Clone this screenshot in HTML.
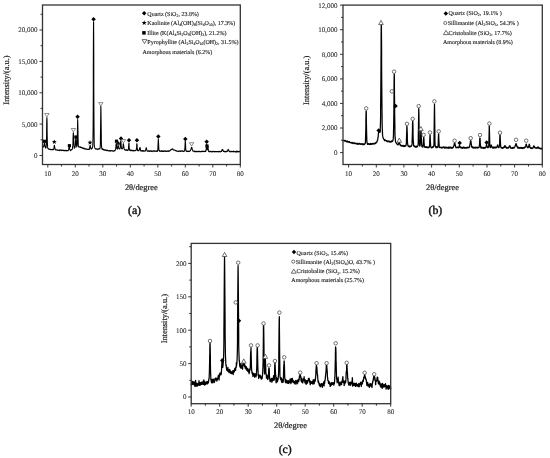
<!DOCTYPE html>
<html><head><meta charset="utf-8"><title>XRD patterns</title>
<style>html,body{margin:0;padding:0;background:#fff;width:550px;height:458px;overflow:hidden} svg{display:block}</style>
</head><body>
<svg width="550" height="458" viewBox="0 0 550 458">
<rect width="550" height="458" fill="#fff"/>
<style>.tk{font:7px 'Liberation Serif', 'Times New Roman', serif;fill:#222;stroke:#222;stroke-width:0.07px} .lg{font:6px 'Liberation Serif', 'Times New Roman', serif;fill:#222;stroke:#222;stroke-width:0.13px} .at{font:8.4px 'Liberation Serif', 'Times New Roman', serif;fill:#222;stroke:#222;stroke-width:0.2px} .pl{font:11.8px 'Liberation Serif', 'Times New Roman', serif;fill:#111;stroke:#111;stroke-width:0.42px} .cv{fill:none;stroke:#000;stroke-width:1.25;stroke-linejoin:round} text{text-rendering:geometricPrecision}</style>
<polyline class="cv" style="stroke-width:1.05" points="42.4,146.5 42.5,146.6 42.6,146.5 42.7,146.5 42.8,146.5 42.8,146.6 42.9,146.8 43.0,146.9 43.1,146.9 43.2,146.9 43.3,147.0 43.3,147.1 43.4,146.9 43.5,146.8 43.6,146.8 43.7,146.6 43.8,146.4 43.8,145.8 43.9,145.5 44.0,144.9 44.1,144.6 44.2,144.2 44.3,143.9 44.3,143.6 44.4,143.4 44.5,143.1 44.6,143.2 44.7,143.6 44.7,144.3 44.8,144.7 44.9,145.3 45.0,145.7 45.1,146.3 45.2,146.9 45.2,147.2 45.3,147.5 45.4,147.7 45.5,147.9 45.6,147.9 45.7,147.9 45.8,147.8 45.9,147.7 46.0,147.8 46.1,147.5 46.1,147.2 46.2,146.4 46.3,145.1 46.4,143.0 46.5,139.7 46.6,135.0 46.6,129.2 46.7,123.5 46.8,119.2 46.9,117.6 47.0,119.2 47.1,123.8 47.1,129.6 47.2,135.1 47.3,139.8 47.4,143.0 47.5,145.4 47.6,146.6 47.6,147.3 47.7,147.7 47.8,148.2 47.9,148.5 48.0,148.5 48.1,148.5 48.2,148.5 48.3,148.6 48.4,148.6 48.5,148.9 48.5,149.1 48.6,149.1 48.7,149.0 48.8,148.9 48.9,149.2 49.0,149.2 49.1,149.1 49.2,149.2 49.3,149.2 49.4,149.1 49.5,149.1 49.6,149.4 49.7,149.5 49.8,149.5 49.9,149.5 49.9,149.4 50.0,149.5 50.1,149.5 50.2,149.6 50.3,149.4 50.4,149.4 50.4,149.2 50.5,149.2 50.6,149.1 50.7,149.2 50.8,149.4 50.9,149.7 51.0,149.6 51.1,149.4 51.2,149.6 51.3,149.6 51.4,149.6 51.5,149.7 51.6,149.6 51.7,149.6 51.8,149.5 51.9,149.6 52.0,149.5 52.1,149.7 52.2,149.7 52.3,149.8 52.3,149.6 52.4,149.6 52.5,149.4 52.6,149.3 52.7,149.4 52.8,149.6 52.9,149.4 53.0,149.6 53.1,149.5 53.2,149.7 53.2,149.6 53.3,149.5 53.4,149.5 53.5,149.6 53.6,149.6 53.7,149.3 53.7,148.9 53.8,148.5 53.9,148.2 54.0,147.6 54.1,147.1 54.2,146.3 54.2,145.8 54.3,145.3 54.4,145.4 54.5,145.6 54.6,146.2 54.6,146.6 54.7,147.1 54.8,147.6 54.9,148.1 55.0,148.6 55.1,148.9 55.1,149.2 55.2,149.3 55.3,149.4 55.4,149.7 55.5,149.8 55.6,149.8 55.6,149.7 55.7,149.9 55.8,149.9 55.9,149.9 56.0,149.7 56.1,149.8 56.2,149.8 56.3,150.0 56.4,149.9 56.5,149.9 56.6,150.0 56.7,149.8 56.8,149.8 56.9,149.9 57.0,150.0 57.0,150.1 57.1,150.0 57.2,150.0 57.3,150.0 57.4,150.0 57.5,150.0 57.5,150.1 57.6,150.0 57.7,150.2 57.8,150.3 57.9,150.3 57.9,150.2 58.0,150.0 58.1,150.0 58.2,150.2 58.3,150.3 58.4,150.3 58.5,150.4 58.6,150.4 58.7,150.3 58.8,150.4 58.9,150.2 58.9,150.3 59.0,150.2 59.1,150.4 59.2,150.5 59.3,150.6 59.3,150.4 59.4,150.1 59.5,150.0 59.6,150.0 59.7,150.2 59.8,150.2 59.9,150.0 60.0,149.9 60.1,150.1 60.2,150.3 60.3,150.3 60.3,150.2 60.4,150.1 60.5,150.0 60.6,150.0 60.7,150.0 60.8,150.1 60.8,150.2 60.9,150.4 61.0,150.3 61.1,150.2 61.2,150.1 61.3,150.2 61.4,150.2 61.5,150.3 61.6,150.4 61.7,150.7 61.7,150.5 61.8,150.5 61.9,150.3 62.0,150.5 62.1,150.2 62.2,150.2 62.2,150.3 62.3,150.4 62.4,150.5 62.5,150.4 62.6,150.5 62.7,150.3 62.8,150.1 62.9,150.0 63.0,149.9 63.1,149.9 63.1,150.2 63.2,150.5 63.3,150.5 63.4,150.3 63.5,150.4 63.6,150.5 63.6,150.6 63.7,150.5 63.8,150.5 63.9,150.6 64.0,150.6 64.1,150.6 64.1,150.5 64.2,150.5 64.3,150.4 64.4,150.6 64.5,150.4 64.5,150.5 64.6,150.4 64.7,150.4 64.8,150.6 64.9,150.7 65.0,150.8 65.0,150.7 65.1,150.6 65.2,150.4 65.3,150.3 65.4,150.3 65.5,150.6 65.5,150.4 65.6,150.4 65.7,150.4 65.8,150.6 65.9,150.7 66.0,150.8 66.1,150.7 66.2,150.6 66.3,150.3 66.4,150.5 66.4,150.7 66.5,150.9 66.6,150.8 66.7,150.8 66.8,150.7 66.9,150.6 67.0,150.6 67.1,150.7 67.2,150.8 67.3,150.8 67.4,150.6 67.4,150.5 67.5,150.6 67.6,150.7 67.7,150.8 67.8,150.6 67.8,150.4 67.9,150.4 68.0,150.5 68.1,150.6 68.2,150.5 68.3,150.4 68.4,150.1 68.5,149.9 68.6,149.6 68.7,149.5 68.8,149.0 68.8,148.6 68.9,148.1 69.0,147.6 69.1,147.0 69.2,146.5 69.2,146.4 69.3,146.5 69.4,146.9 69.5,147.6 69.6,148.2 69.7,148.7 69.7,149.0 69.8,149.4 69.9,149.6 70.0,149.8 70.1,150.1 70.2,150.2 70.2,150.4 70.3,150.5 70.4,150.6 70.5,150.5 70.6,150.5 70.7,150.4 70.7,150.3 70.8,149.9 70.9,149.9 71.0,150.1 71.1,150.2 71.1,150.1 71.2,149.8 71.3,149.6 71.4,149.7 71.5,149.7 71.6,149.7 71.7,149.6 71.8,149.5 71.9,149.5 72.0,149.4 72.1,149.4 72.1,149.5 72.2,149.4 72.3,149.2 72.4,148.7 72.5,148.4 72.5,147.8 72.6,147.2 72.7,146.4 72.8,145.4 72.9,143.9 73.0,141.5 73.0,139.1 73.1,136.5 73.2,134.5 73.3,133.2 73.4,132.7 73.5,133.1 73.5,134.3 73.6,136.4 73.7,138.9 73.8,141.2 73.9,143.2 74.0,144.7 74.0,146.1 74.1,147.0 74.2,147.8 74.3,147.9 74.4,148.1 74.4,148.0 74.5,148.1 74.6,148.0 74.7,147.8 74.8,147.7 74.9,147.6 75.0,147.4 75.1,147.0 75.2,146.2 75.3,145.3 75.4,144.1 75.4,143.0 75.5,141.7 75.6,140.3 75.7,139.0 75.8,138.1 75.8,137.5 75.9,137.8 76.0,138.8 76.1,139.9 76.2,141.3 76.3,142.7 76.3,144.2 76.4,145.0 76.5,145.7 76.6,146.0 76.7,146.6 76.8,146.7 76.8,147.0 76.9,146.5 77.0,146.0 77.1,144.7 77.2,143.0 77.3,140.4 77.3,136.6 77.4,131.9 77.5,126.6 77.6,122.1 77.7,119.4 77.7,119.8 77.8,123.2 77.9,128.1 78.0,133.3 78.1,137.8 78.2,141.1 78.2,143.4 78.3,144.9 78.4,145.9 78.5,146.3 78.6,146.5 78.7,146.5 78.7,146.6 78.8,146.8 78.9,146.8 79.0,147.1 79.1,146.9 79.1,147.0 79.2,146.9 79.3,146.9 79.4,146.9 79.5,146.9 79.6,147.1 79.7,147.0 79.8,147.0 79.9,147.0 80.0,147.3 80.1,147.2 80.1,147.3 80.2,147.0 80.3,147.2 80.4,147.1 80.5,147.2 80.6,147.1 80.6,147.4 80.7,147.4 80.8,147.4 80.9,147.2 81.0,147.3 81.0,147.5 81.1,147.5 81.2,147.5 81.3,147.6 81.4,147.6 81.5,147.8 81.5,147.6 81.6,147.6 81.7,147.4 81.8,147.7 81.9,147.9 82.0,148.1 82.0,147.9 82.1,148.0 82.2,148.0 82.3,148.2 82.4,148.1 82.4,148.0 82.5,147.7 82.6,147.7 82.7,148.0 82.8,148.2 82.9,148.3 82.9,148.1 83.0,148.0 83.1,148.3 83.2,148.1 83.3,148.3 83.4,148.0 83.4,148.4 83.5,148.3 83.6,148.4 83.7,148.2 83.8,148.2 83.9,148.4 83.9,148.7 84.0,148.7 84.1,148.5 84.2,148.3 84.3,148.3 84.3,148.4 84.4,148.6 84.5,148.7 84.6,148.6 84.7,148.6 84.8,148.6 84.8,148.9 84.9,149.1 85.0,149.1 85.1,148.9 85.2,148.8 85.3,148.7 85.3,148.8 85.4,148.8 85.5,148.8 85.6,148.9 85.7,148.9 85.7,149.1 85.8,149.0 85.9,149.0 86.0,148.9 86.1,148.9 86.2,148.9 86.2,149.1 86.3,149.1 86.4,149.1 86.5,149.1 86.6,149.0 86.7,149.1 86.7,149.0 86.8,149.0 86.9,149.1 87.0,149.1 87.1,149.3 87.2,149.3 87.3,149.2 87.4,149.3 87.5,149.3 87.6,149.4 87.6,149.3 87.7,149.4 87.8,149.4 87.9,149.5 88.0,149.4 88.1,149.4 88.1,149.3 88.2,149.4 88.3,149.3 88.4,149.5 88.5,149.5 88.6,149.4 88.6,149.3 88.7,149.3 88.8,149.4 88.9,149.5 89.0,149.2 89.1,149.3 89.2,149.4 89.3,149.3 89.4,148.9 89.5,148.6 89.5,148.3 89.6,147.8 89.7,147.3 89.8,146.6 89.9,146.2 90.0,145.6 90.0,145.4 90.1,145.3 90.2,145.4 90.3,145.7 90.4,146.4 90.5,146.8 90.5,147.2 90.6,147.4 90.7,147.7 90.8,148.1 90.9,148.6 90.9,148.8 91.0,149.0 91.1,148.9 91.2,148.9 91.3,148.9 91.4,149.0 91.4,149.1 91.5,149.0 91.6,148.9 91.7,148.8 91.8,148.6 91.9,148.4 91.9,148.3 92.0,148.3 92.1,148.4 92.2,148.0 92.3,147.9 92.3,147.6 92.4,147.4 92.5,147.0 92.6,146.6 92.7,146.3 92.8,145.8 92.8,144.4 92.9,141.8 93.0,136.9 93.1,127.9 93.2,113.4 93.3,92.8 93.3,67.8 93.4,42.6 93.5,24.7 93.6,21.8 93.7,35.2 93.8,59.0 93.8,85.0 93.9,107.4 94.0,124.0 94.1,134.7 94.2,140.7 94.2,143.8 94.3,145.3 94.4,146.4 94.5,146.9 94.6,147.4 94.7,147.5 94.7,147.7 94.8,147.8 94.9,148.1 95.0,148.4 95.1,148.3 95.2,148.3 95.3,148.4 95.4,148.4 95.5,148.6 95.6,148.7 95.6,149.0 95.7,148.8 95.8,148.9 95.9,148.9 96.0,149.1 96.1,148.9 96.2,148.8 96.3,148.8 96.4,149.0 96.5,149.0 96.6,149.0 96.6,148.9 96.7,148.9 96.8,149.1 96.9,149.0 97.0,149.0 97.1,149.0 97.1,149.3 97.2,149.6 97.3,149.5 97.4,149.3 97.5,149.2 97.6,149.1 97.7,149.0 97.8,149.0 97.9,149.1 98.0,148.9 98.0,148.7 98.1,148.8 98.2,148.9 98.3,149.1 98.4,149.0 98.5,149.2 98.5,149.1 98.6,149.2 98.7,149.0 98.8,149.0 98.9,148.8 98.9,149.0 99.0,149.0 99.1,149.0 99.2,148.9 99.3,148.8 99.4,148.9 99.4,148.8 99.5,148.6 99.6,148.5 99.7,148.8 99.8,148.9 99.9,148.8 99.9,148.5 100.0,148.3 100.1,147.8 100.2,146.9 100.3,145.2 100.4,142.7 100.4,138.6 100.5,132.5 100.6,125.2 100.7,117.2 100.8,110.3 100.8,106.3 100.9,106.8 101.0,111.9 101.1,119.4 101.2,127.7 101.3,134.7 101.3,140.1 101.4,143.5 101.5,145.7 101.6,146.9 101.7,147.8 101.8,148.1 101.8,148.4 101.9,148.3 102.0,148.6 102.1,148.8 102.2,149.2 102.2,149.4 102.3,149.4 102.4,149.2 102.5,148.9 102.6,148.8 102.7,149.0 102.7,149.1 102.8,149.1 102.9,149.2 103.0,149.1 103.1,149.3 103.2,149.3 103.2,149.5 103.3,149.5 103.4,149.5 103.5,149.4 103.6,149.3 103.7,149.4 103.7,149.7 103.8,150.1 103.9,150.2 104.0,150.1 104.1,149.9 104.2,149.9 104.3,149.9 104.4,149.8 104.5,149.8 104.6,149.8 104.6,149.9 104.7,149.8 104.8,149.8 104.9,150.0 105.0,150.2 105.1,150.2 105.1,150.1 105.2,150.1 105.3,150.1 105.4,150.0 105.5,150.1 105.5,150.2 105.6,150.3 105.7,150.4 105.8,150.3 105.9,150.3 106.0,150.1 106.0,150.4 106.1,150.2 106.2,150.2 106.3,150.0 106.4,150.3 106.5,150.4 106.5,150.6 106.6,150.4 106.7,150.5 106.8,150.3 106.9,150.4 107.0,150.4 107.1,150.2 107.2,150.2 107.3,150.1 107.4,150.3 107.4,150.4 107.5,150.6 107.6,150.8 107.7,150.8 107.8,150.6 107.9,150.4 108.0,150.4 108.1,150.5 108.2,150.6 108.3,150.5 108.4,150.6 108.5,150.9 108.6,150.8 108.7,150.9 108.8,150.9 108.8,151.0 108.9,151.0 109.0,151.0 109.1,150.9 109.2,150.7 109.3,150.7 109.3,150.6 109.4,150.8 109.5,150.7 109.6,150.9 109.7,150.9 109.8,150.9 109.8,150.5 109.9,150.5 110.0,150.6 110.1,150.7 110.2,150.8 110.3,150.7 110.3,150.8 110.4,150.8 110.5,150.8 110.6,150.9 110.7,151.2 110.7,151.1 110.8,151.0 110.9,150.6 111.0,150.8 111.1,150.7 111.2,150.8 111.2,150.7 111.3,150.7 111.4,150.7 111.5,150.6 111.6,150.5 111.7,150.5 111.8,150.7 111.9,150.8 112.0,150.7 112.1,150.7 112.1,150.8 112.2,151.0 112.3,151.0 112.4,150.9 112.5,150.9 112.6,150.8 112.7,150.7 112.8,150.9 112.9,151.0 113.0,151.2 113.1,151.0 113.1,151.1 113.2,150.9 113.3,150.9 113.4,151.1 113.5,151.2 113.6,151.2 113.6,150.9 113.7,150.9 113.8,151.1 113.9,151.0 114.0,150.7 114.0,150.6 114.1,150.6 114.2,150.7 114.3,150.8 114.4,150.8 114.5,150.9 114.5,150.6 114.6,150.6 114.7,150.7 114.8,150.8 114.9,150.7 115.0,150.5 115.1,150.3 115.2,150.2 115.3,150.0 115.4,150.0 115.4,149.7 115.5,149.4 115.6,148.9 115.7,148.4 115.8,147.6 115.9,146.7 115.9,145.8 116.0,145.0 116.1,144.2 116.2,143.6 116.3,143.4 116.4,143.5 116.4,144.1 116.5,144.6 116.6,145.7 116.7,146.7 116.8,147.8 116.9,148.2 116.9,148.6 117.0,148.7 117.1,148.9 117.2,149.1 117.3,149.0 117.3,149.1 117.4,148.8 117.5,148.8 117.6,148.5 117.7,148.0 117.8,147.5 117.8,147.0 117.9,146.5 118.0,146.1 118.1,145.6 118.2,145.2 118.3,145.2 118.3,145.6 118.4,146.2 118.5,146.6 118.6,147.2 118.7,147.6 118.7,147.9 118.8,148.1 118.9,148.5 119.0,148.6 119.1,148.8 119.2,148.7 119.2,148.8 119.3,148.8 119.4,148.9 119.5,148.8 119.6,148.7 119.7,148.7 119.7,149.0 119.8,148.9 119.9,148.8 120.0,148.6 120.1,148.4 120.2,148.1 120.2,147.5 120.3,146.8 120.4,145.8 120.5,144.6 120.6,143.4 120.6,142.1 120.7,141.2 120.8,140.9 120.9,141.3 121.0,142.4 121.1,143.6 121.1,144.9 121.2,146.2 121.3,146.9 121.4,147.7 121.5,147.9 121.6,148.4 121.6,148.7 121.7,148.6 121.8,148.4 121.9,148.3 122.0,148.6 122.0,148.7 122.1,148.7 122.2,148.7 122.3,148.7 122.4,148.7 122.5,148.7 122.5,148.3 122.6,148.3 122.7,147.9 122.8,147.9 122.9,147.4 123.0,146.8 123.0,146.1 123.1,145.4 123.2,144.7 123.3,144.0 123.4,143.7 123.5,143.9 123.5,144.4 123.6,144.9 123.7,145.7 123.8,146.4 123.9,147.1 123.9,147.7 124.0,148.3 124.1,148.7 124.2,148.9 124.3,149.0 124.4,149.2 124.4,149.3 124.5,149.5 124.6,149.5 124.7,149.7 124.8,149.6 124.9,149.7 125.0,149.8 125.1,150.0 125.2,150.0 125.3,150.3 125.3,150.2 125.4,150.1 125.5,150.0 125.6,149.9 125.7,150.0 125.8,150.1 125.9,149.9 126.0,149.9 126.1,149.8 126.2,150.0 126.3,150.0 126.3,150.1 126.4,150.1 126.5,150.2 126.6,150.1 126.7,150.0 126.8,149.8 126.9,149.8 127.0,150.1 127.1,150.2 127.2,150.4 127.2,150.1 127.3,150.2 127.4,150.1 127.5,150.2 127.6,150.3 127.7,150.5 127.8,150.4 127.9,150.1 128.0,150.1 128.1,150.1 128.2,150.2 128.2,150.0 128.3,149.9 128.4,149.2 128.5,148.5 128.6,147.4 128.6,146.4 128.7,145.0 128.8,143.7 128.9,143.0 129.0,143.2 129.1,144.3 129.1,145.8 129.2,147.0 129.3,147.9 129.4,148.6 129.5,149.4 129.6,149.8 129.6,150.0 129.7,150.1 129.8,150.3 129.9,150.4 130.0,150.2 130.1,150.0 130.2,149.9 130.3,150.1 130.4,150.2 130.5,150.4 130.5,150.6 130.6,150.8 130.7,150.6 130.8,150.5 130.9,150.5 131.0,150.6 131.0,150.4 131.1,150.3 131.2,150.2 131.3,150.4 131.4,150.2 131.5,150.3 131.5,150.1 131.6,150.3 131.7,150.4 131.8,150.5 131.9,150.5 131.9,150.6 132.0,150.4 132.1,150.4 132.2,150.2 132.3,150.4 132.4,150.5 132.5,150.4 132.6,150.4 132.7,150.6 132.8,150.6 132.9,150.7 132.9,150.9 133.0,150.8 133.1,150.7 133.2,150.7 133.3,150.9 133.4,150.9 133.4,150.6 133.5,150.5 133.6,150.5 133.7,150.4 133.8,150.6 133.8,150.5 133.9,150.6 134.0,150.4 134.1,150.4 134.2,150.4 134.3,150.5 134.3,150.6 134.4,150.7 134.5,150.8 134.6,150.7 134.7,150.7 134.8,150.6 134.8,150.5 134.9,150.6 135.0,150.5 135.1,150.7 135.2,150.6 135.3,150.5 135.4,150.4 135.5,150.5 135.6,150.4 135.7,150.6 135.7,150.5 135.8,150.3 135.9,150.1 136.0,150.0 136.1,150.1 136.2,150.2 136.2,150.3 136.3,149.9 136.4,149.1 136.5,148.4 136.6,147.5 136.7,146.2 136.7,144.8 136.8,143.9 136.9,143.7 137.0,144.0 137.1,144.8 137.1,146.1 137.2,147.4 137.3,148.4 137.4,149.2 137.5,149.7 137.6,150.1 137.6,150.3 137.7,150.7 137.8,150.7 137.9,150.7 138.0,150.5 138.1,150.6 138.1,150.7 138.2,150.7 138.3,150.6 138.4,150.3 138.5,150.3 138.5,150.4 138.6,150.6 138.7,150.6 138.8,150.5 138.9,150.5 139.0,150.6 139.0,150.5 139.1,150.4 139.2,150.0 139.3,149.7 139.4,149.6 139.5,149.2 139.5,148.9 139.6,148.3 139.7,148.0 139.8,147.6 139.9,147.4 140.0,147.4 140.0,147.6 140.1,147.8 140.2,148.2 140.3,148.6 140.4,149.1 140.4,149.6 140.5,150.0 140.6,150.4 140.7,150.5 140.8,150.7 140.9,150.8 140.9,151.0 141.0,151.1 141.1,151.0 141.2,150.9 141.3,150.8 141.4,150.7 141.4,150.8 141.5,150.7 141.6,150.8 141.7,150.6 141.8,150.6 141.9,150.9 142.0,151.1 142.1,151.1 142.2,151.0 142.3,150.8 142.4,150.8 142.5,151.0 142.6,151.1 142.7,151.1 142.8,150.9 142.8,150.7 142.9,150.5 143.0,150.6 143.1,150.8 143.2,151.0 143.3,150.9 143.4,151.0 143.5,151.1 143.6,151.0 143.7,150.8 143.7,150.9 143.8,151.0 143.9,151.2 144.0,151.3 144.1,151.3 144.2,151.3 144.3,151.0 144.4,150.9 144.5,150.8 144.6,150.9 144.7,151.0 144.8,150.9 144.9,150.9 145.0,151.0 145.1,151.1 145.2,151.1 145.3,151.0 145.4,150.6 145.5,150.3 145.6,150.1 145.6,150.0 145.7,149.8 145.8,149.6 145.9,149.2 146.0,148.6 146.1,148.3 146.1,148.0 146.2,147.8 146.3,147.7 146.4,148.0 146.5,148.4 146.6,148.9 146.6,149.2 146.7,149.6 146.8,149.9 146.9,150.3 147.0,150.6 147.0,150.7 147.1,150.7 147.2,151.2 147.3,151.1 147.4,151.3 147.5,151.0 147.5,151.1 147.6,151.0 147.7,151.1 147.8,151.3 147.9,151.2 148.0,151.1 148.0,150.9 148.1,150.9 148.2,151.1 148.3,151.3 148.4,151.3 148.5,151.3 148.6,151.3 148.7,151.1 148.8,150.8 148.9,150.6 148.9,150.9 149.0,151.0 149.1,151.2 149.2,151.1 149.3,151.4 149.4,151.4 149.4,151.3 149.5,151.1 149.6,151.0 149.7,151.1 149.8,151.0 149.9,151.0 149.9,151.2 150.0,151.1 150.1,151.1 150.2,150.8 150.3,151.0 150.3,151.1 150.4,151.2 150.5,151.2 150.6,151.0 150.7,151.1 150.8,151.0 150.8,151.2 150.9,151.1 151.0,150.9 151.1,150.8 151.2,150.8 151.3,151.2 151.3,151.3 151.4,151.3 151.5,151.0 151.6,151.1 151.7,151.3 151.7,151.4 151.8,151.3 151.9,150.9 152.0,151.0 152.1,151.3 152.2,151.5 152.2,151.6 152.3,151.4 152.4,151.2 152.5,151.2 152.6,151.0 152.7,151.1 152.7,151.0 152.8,151.2 152.9,151.3 153.0,151.3 153.1,151.1 153.2,150.9 153.3,150.9 153.4,150.9 153.5,150.8 153.6,150.8 153.7,150.8 153.8,150.6 153.9,150.8 154.0,151.0 154.1,151.4 154.1,151.2 154.2,151.1 154.3,151.0 154.4,151.1 154.5,151.2 154.6,151.2 154.7,151.1 154.8,150.8 154.9,150.9 155.0,151.1 155.1,150.9 155.2,150.9 155.3,151.1 155.4,151.2 155.5,151.2 155.6,151.1 155.7,151.0 155.8,151.0 155.9,151.1 156.0,150.9 156.0,150.8 156.1,150.9 156.2,151.3 156.3,151.1 156.4,151.3 156.5,151.0 156.5,151.3 156.6,151.2 156.7,151.4 156.8,151.3 156.9,151.1 156.9,151.0 157.0,150.9 157.1,150.8 157.2,150.9 157.3,151.1 157.4,151.5 157.4,151.0 157.5,151.0 157.6,150.8 157.7,150.8 157.8,150.1 157.9,149.0 157.9,147.5 158.0,145.4 158.1,143.2 158.2,141.0 158.3,139.4 158.3,138.9 158.4,139.5 158.5,141.6 158.6,143.9 158.7,146.1 158.8,147.8 158.8,149.0 158.9,149.8 159.0,150.3 159.1,150.5 159.2,150.7 159.3,150.6 159.3,150.8 159.4,151.0 159.5,151.1 159.6,151.1 159.7,150.9 159.8,150.8 159.8,150.7 159.9,151.0 160.0,151.3 160.1,151.5 160.2,151.3 160.2,151.1 160.3,151.0 160.4,151.2 160.5,151.2 160.6,151.2 160.7,151.2 160.7,151.1 160.8,151.1 160.9,150.8 161.0,150.8 161.1,150.7 161.2,150.9 161.3,151.0 161.4,151.1 161.5,151.0 161.6,150.9 161.6,150.8 161.7,151.0 161.8,151.3 161.9,151.4 162.0,151.3 162.1,151.3 162.1,151.1 162.2,151.2 162.3,151.0 162.4,150.9 162.5,151.0 162.6,151.2 162.6,151.4 162.7,151.2 162.8,151.0 162.9,151.1 163.0,150.9 163.1,150.9 163.2,151.1 163.3,151.3 163.4,151.2 163.5,151.5 163.5,151.3 163.6,151.3 163.7,150.8 163.8,150.8 163.9,150.9 164.0,151.0 164.0,151.2 164.1,151.0 164.2,151.0 164.3,150.9 164.4,150.9 164.5,150.9 164.5,151.0 164.6,151.2 164.7,151.2 164.8,151.0 164.9,150.9 164.9,151.0 165.0,151.2 165.1,151.4 165.2,151.5 165.3,151.4 165.4,151.1 165.4,151.0 165.5,150.9 165.6,150.8 165.7,150.8 165.8,150.9 165.9,151.0 166.0,151.1 166.1,150.9 166.2,151.1 166.3,151.1 166.4,151.4 166.5,151.4 166.6,151.2 166.7,151.2 166.8,151.4 166.8,151.3 166.9,151.3 167.0,151.2 167.1,151.4 167.2,151.3 167.3,151.3 167.3,151.2 167.4,151.1 167.5,150.9 167.6,150.9 167.7,150.8 167.8,150.9 167.8,151.0 167.9,151.1 168.0,150.9 168.1,151.1 168.2,151.2 168.2,151.4 168.3,151.2 168.4,151.0 168.5,151.0 168.6,151.1 168.7,150.9 168.8,151.2 168.9,151.2 169.0,151.2 169.1,150.9 169.2,151.1 169.2,151.2 169.3,151.0 169.4,151.0 169.5,150.9 169.6,151.0 169.7,150.8 169.7,150.6 169.8,150.6 169.9,150.7 170.0,150.5 170.1,150.6 170.1,150.3 170.2,150.4 170.3,150.2 170.4,150.0 170.5,149.9 170.6,149.7 170.6,149.9 170.7,149.9 170.8,149.9 170.9,149.8 171.0,149.7 171.1,149.7 171.1,149.9 171.2,149.8 171.3,149.6 171.4,149.4 171.5,149.4 171.5,149.5 171.6,149.5 171.7,149.3 171.8,149.1 171.9,149.0 172.0,149.1 172.1,149.0 172.2,148.8 172.3,148.9 172.4,149.1 172.5,149.2 172.5,149.1 172.6,149.1 172.7,149.0 172.8,149.0 172.9,149.1 173.0,149.3 173.0,149.5 173.1,149.6 173.2,149.8 173.3,149.8 173.4,149.9 173.4,150.0 173.5,150.0 173.6,149.9 173.7,149.9 173.8,149.9 173.9,149.9 174.0,149.8 174.1,149.8 174.2,149.9 174.3,150.1 174.4,150.0 174.5,150.1 174.6,150.3 174.7,150.2 174.8,150.3 174.8,150.2 174.9,150.3 175.0,150.4 175.1,150.5 175.2,150.5 175.3,150.5 175.3,150.6 175.4,150.6 175.5,150.6 175.6,150.8 175.7,150.6 175.8,150.5 175.8,150.3 175.9,150.5 176.0,150.5 176.1,150.6 176.2,150.7 176.3,150.8 176.3,150.9 176.4,150.9 176.5,151.0 176.6,151.0 176.7,151.2 176.7,151.3 176.8,151.2 176.9,151.1 177.0,151.0 177.1,151.1 177.2,151.2 177.3,151.2 177.4,151.2 177.5,151.2 177.6,151.3 177.7,151.1 177.7,151.0 177.8,151.0 177.9,151.3 178.0,151.3 178.1,151.3 178.1,151.1 178.2,151.1 178.3,151.2 178.4,151.3 178.5,151.5 178.6,151.5 178.6,151.6 178.7,151.4 178.8,151.4 178.9,151.2 179.0,151.1 179.1,151.0 179.1,151.2 179.2,151.0 179.3,151.1 179.4,151.0 179.5,151.2 179.6,151.1 179.7,151.2 179.8,151.1 179.9,151.0 180.0,151.0 180.0,151.2 180.1,151.2 180.2,151.1 180.3,151.0 180.4,151.1 180.5,151.3 180.5,151.2 180.6,151.4 180.7,151.4 180.8,151.4 180.9,151.3 181.0,151.1 181.0,151.0 181.1,150.8 181.2,150.9 181.3,151.0 181.4,151.1 181.4,151.2 181.5,151.0 181.6,151.1 181.7,150.9 181.8,151.1 181.9,151.0 182.0,150.9 182.1,150.9 182.2,151.0 182.3,151.2 182.4,151.3 182.4,151.2 182.5,151.1 182.6,151.0 182.7,151.1 182.8,151.0 182.9,151.2 182.9,151.1 183.0,151.2 183.1,151.1 183.2,151.3 183.3,151.4 183.4,151.3 183.5,151.4 183.6,151.4 183.7,151.4 183.8,151.4 183.8,151.3 183.9,151.3 184.0,151.1 184.1,151.0 184.2,151.1 184.3,151.0 184.4,150.9 184.5,151.0 184.6,150.6 184.7,150.2 184.7,149.7 184.8,149.0 184.9,147.8 185.0,145.8 185.1,144.1 185.2,142.2 185.2,141.3 185.3,140.9 185.4,141.9 185.5,143.5 185.6,145.6 185.7,147.2 185.7,148.6 185.8,149.7 185.9,150.4 186.0,150.7 186.1,150.7 186.2,150.8 186.2,151.0 186.3,151.3 186.4,151.3 186.5,151.1 186.6,151.0 186.6,151.2 186.7,151.5 186.8,151.5 186.9,151.3 187.0,151.2 187.1,151.0 187.1,150.9 187.2,151.0 187.3,151.1 187.4,151.5 187.5,151.4 187.6,151.4 187.6,151.3 187.7,151.4 187.8,151.6 187.9,151.4 188.0,151.2 188.0,151.3 188.1,151.4 188.2,151.3 188.3,151.2 188.4,151.3 188.5,151.3 188.5,151.1 188.6,151.0 188.7,151.2 188.8,151.2 188.9,151.4 189.0,151.4 189.0,151.3 189.1,151.2 189.2,151.2 189.3,151.4 189.4,151.5 189.5,151.3 189.5,151.2 189.6,151.2 189.7,151.1 189.8,151.0 189.9,150.9 190.0,151.1 190.1,150.8 190.2,150.7 190.3,150.5 190.4,150.5 190.4,150.6 190.5,150.3 190.6,150.2 190.7,149.9 190.8,149.7 190.9,149.5 190.9,149.3 191.0,148.9 191.1,148.7 191.2,148.3 191.3,148.1 191.3,147.7 191.4,147.7 191.5,147.5 191.6,147.5 191.7,147.3 191.8,147.6 191.9,147.8 192.0,148.2 192.1,148.6 192.2,149.0 192.3,149.4 192.3,149.7 192.4,149.9 192.5,150.0 192.6,150.1 192.7,150.5 192.8,150.7 192.8,150.9 192.9,150.9 193.0,150.9 193.1,151.0 193.2,151.0 193.2,151.1 193.3,150.9 193.4,151.0 193.5,151.0 193.6,151.1 193.7,151.2 193.8,151.3 193.9,151.2 194.0,151.3 194.1,151.1 194.2,151.0 194.2,151.1 194.3,151.1 194.4,151.3 194.5,151.3 194.6,151.6 194.6,151.7 194.7,151.6 194.8,151.4 194.9,151.3 195.0,151.4 195.1,151.6 195.1,151.5 195.2,151.6 195.3,151.6 195.4,151.6 195.5,151.6 195.6,151.5 195.7,151.5 195.8,151.5 195.9,151.4 196.0,151.6 196.1,151.5 196.1,151.6 196.2,151.5 196.3,151.5 196.4,151.6 196.5,151.5 196.5,151.4 196.6,151.2 196.7,151.2 196.8,151.5 196.9,151.6 197.0,151.7 197.0,151.4 197.1,151.4 197.2,151.4 197.3,151.7 197.4,151.6 197.5,151.6 197.5,151.4 197.6,151.4 197.7,151.3 197.8,151.3 197.9,151.2 198.0,151.3 198.1,151.5 198.2,151.3 198.3,151.4 198.4,151.5 198.4,151.7 198.5,151.7 198.6,151.6 198.7,151.6 198.8,151.4 198.9,151.5 198.9,151.4 199.0,151.4 199.1,151.5 199.2,151.6 199.3,151.5 199.4,151.4 199.5,151.4 199.6,151.3 199.7,151.3 199.8,151.3 199.8,151.4 199.9,151.3 200.0,151.6 200.1,151.7 200.2,151.8 200.3,151.6 200.3,151.7 200.4,151.7 200.5,151.7 200.6,151.5 200.7,151.5 200.8,151.6 200.9,151.8 201.0,151.6 201.1,151.6 201.2,151.3 201.2,151.6 201.3,151.5 201.4,151.6 201.5,151.5 201.6,151.7 201.7,151.6 201.7,151.4 201.8,151.2 201.9,151.3 202.0,151.3 202.1,151.4 202.2,151.3 202.3,151.3 202.4,151.4 202.5,151.6 202.6,151.5 202.7,151.4 202.7,151.2 202.8,151.5 202.9,151.4 203.0,151.4 203.1,151.2 203.1,151.4 203.2,151.4 203.3,151.5 203.4,151.5 203.5,151.5 203.6,151.3 203.7,151.4 203.8,151.5 203.9,151.6 204.0,151.7 204.1,151.6 204.1,151.4 204.2,151.4 204.3,151.7 204.4,151.7 204.5,151.4 204.5,151.2 204.6,151.2 204.7,151.2 204.8,151.2 204.9,151.1 205.0,151.2 205.0,151.3 205.1,151.3 205.2,151.4 205.3,151.4 205.4,151.5 205.5,151.5 205.5,151.4 205.6,151.2 205.7,151.3 205.8,151.3 205.9,151.1 206.0,150.6 206.0,150.2 206.1,149.8 206.2,149.1 206.3,148.1 206.4,146.9 206.4,145.6 206.5,144.5 206.6,144.3 206.7,144.6 206.8,145.8 206.9,146.8 206.9,147.7 207.0,148.3 207.1,149.1 207.2,149.6 207.3,149.7 207.4,149.5 207.4,149.2 207.5,148.6 207.6,147.8 207.7,147.1 207.8,146.5 207.8,146.3 207.9,146.4 208.0,146.9 208.1,147.8 208.2,148.6 208.3,149.5 208.3,150.1 208.4,150.6 208.5,151.0 208.6,151.0 208.7,151.3 208.8,151.4 208.8,151.6 208.9,151.4 209.0,151.2 209.1,151.2 209.2,151.6 209.3,151.8 209.4,151.6 209.5,151.5 209.6,151.4 209.7,151.5 209.7,151.4 209.8,151.5 209.9,151.6 210.0,151.6 210.1,151.4 210.2,151.3 210.2,151.4 210.3,151.3 210.4,151.3 210.5,151.4 210.6,151.6 210.7,151.7 210.8,151.7 210.9,151.5 211.0,151.4 211.1,151.4 211.2,151.5 211.3,151.5 211.4,151.6 211.5,151.8 211.6,151.9 211.6,151.8 211.7,151.7 211.8,151.8 211.9,151.8 212.0,151.9 212.1,151.7 212.1,151.6 212.2,151.3 212.3,151.4 212.4,151.5 212.5,151.7 212.6,151.7 212.7,151.5 212.8,151.5 212.9,151.4 213.0,151.4 213.0,151.3 213.1,151.4 213.2,151.4 213.3,151.5 213.4,151.4 213.5,151.3 213.5,151.5 213.6,151.5 213.7,151.8 213.8,151.7 213.9,151.8 214.0,151.5 214.1,151.7 214.2,151.8 214.3,151.6 214.4,151.6 214.4,151.7 214.5,151.9 214.6,151.8 214.7,151.8 214.8,151.5 214.9,151.7 214.9,151.6 215.0,151.5 215.1,151.3 215.2,151.3 215.3,151.8 215.4,151.7 215.5,151.6 215.6,151.8 215.7,151.8 215.8,151.8 215.9,151.7 216.0,151.6 216.1,151.6 216.2,151.5 216.3,151.6 216.3,151.5 216.4,151.7 216.5,151.7 216.6,151.8 216.7,151.6 216.8,151.5 216.9,151.7 217.0,151.7 217.1,151.8 217.2,151.7 217.3,151.7 217.3,151.4 217.4,151.5 217.5,151.5 217.6,151.6 217.7,151.7 217.8,151.5 217.9,151.4 218.0,151.2 218.1,151.6 218.2,151.8 218.2,151.9 218.3,151.8 218.4,151.5 218.5,151.6 218.6,151.7 218.7,151.8 218.7,151.7 218.8,151.8 218.9,151.5 219.0,151.7 219.1,151.6 219.2,151.8 219.2,151.7 219.3,151.5 219.4,151.4 219.5,151.5 219.6,151.6 219.7,151.6 219.8,151.6 219.9,151.7 220.0,151.7 220.1,151.8 220.2,151.8 220.3,151.8 220.4,151.9 220.5,151.6 220.6,151.7 220.6,151.5 220.7,151.6 220.8,151.4 220.9,151.2 221.0,151.2 221.1,151.4 221.2,151.3 221.3,151.5 221.4,151.4 221.5,151.4 221.5,151.1 221.6,150.9 221.7,150.6 221.8,150.5 221.9,150.4 222.0,150.3 222.0,150.0 222.1,149.7 222.2,149.5 222.3,149.5 222.4,149.6 222.5,149.8 222.6,149.5 222.7,149.5 222.8,149.6 222.9,150.0 222.9,150.3 223.0,150.7 223.1,150.7 223.2,151.0 223.3,151.2 223.4,151.3 223.4,151.4 223.5,151.2 223.6,151.4 223.7,151.4 223.8,151.4 223.9,151.2 223.9,151.1 224.0,151.3 224.1,151.7 224.2,151.7 224.3,151.8 224.3,151.6 224.4,151.6 224.5,151.4 224.6,151.4 224.7,151.4 224.8,151.7 224.8,151.5 224.9,151.6 225.0,151.4 225.1,151.6 225.2,151.5 225.3,151.6 225.3,151.7 225.4,151.7 225.5,151.7 225.6,151.5 225.7,151.6 225.8,151.7 225.8,152.0 225.9,152.0 226.0,151.6 226.1,151.5 226.2,151.3 226.2,151.4 226.3,151.5 226.4,151.5 226.5,151.5 226.6,151.2 226.7,151.3 226.8,151.4 226.9,151.3 227.0,151.5 227.1,151.4 227.2,151.3 227.2,150.9 227.3,151.1 227.4,151.3 227.5,151.2 227.6,150.8 227.6,150.4 227.7,150.2 227.8,150.0 227.9,149.9 228.0,149.7 228.1,149.7 228.1,149.5 228.2,149.4 228.3,149.7 228.4,149.6 228.5,149.9 228.6,149.9 228.6,150.1 228.7,150.3 228.8,150.5 228.9,150.7 229.0,150.7 229.1,150.7 229.1,151.1 229.2,151.6 229.3,151.8 229.4,151.8 229.5,151.6 229.5,151.5 229.6,151.5 229.7,151.4 229.8,151.4 229.9,151.3 230.0,151.4 230.1,151.5 230.2,151.5 230.3,151.7 230.4,151.6 230.5,151.6 230.5,151.5 230.6,151.5 230.7,151.5 230.8,151.4 230.9,151.5 230.9,151.7 231.0,151.8 231.1,151.6 231.2,151.5 231.3,151.3 231.4,151.5 231.5,151.5 231.6,151.6 231.7,151.6 231.8,151.6 231.9,151.6 231.9,151.7 232.0,151.8 232.1,151.7 232.2,151.5 232.3,151.7 232.4,151.6 232.5,151.4 232.6,151.4 232.7,151.5 232.8,151.5 232.8,151.6 232.9,151.6 233.0,151.2 233.1,151.2 233.2,151.0 233.3,151.4 233.3,151.5 233.4,151.8 233.5,151.7 233.6,151.6 233.7,151.5 233.8,151.5 233.9,151.4 234.0,151.6 234.1,151.6 234.2,151.8 234.2,151.7 234.3,151.7 234.4,151.6 234.5,151.6 234.6,151.7 234.7,151.7 234.7,151.6 234.8,151.5 234.9,151.6 235.0,151.7 235.1,151.7 235.2,151.7 235.2,151.8 235.3,151.9 235.4,151.7 235.5,151.8 235.6,151.8 235.7,151.9 235.7,151.7 235.8,151.5 235.9,151.3 236.0,151.4 236.1,151.5 236.1,151.7 236.2,151.5 236.3,151.3 236.4,151.3 236.5,151.3 236.6,151.5 236.6,151.7 236.7,152.1 236.8,152.1 236.9,151.9 237.0,151.5 237.1,151.1 237.2,151.2 237.3,151.6 237.4,151.7 237.5,151.8 237.5,151.7 237.6,151.7 237.7,151.8 237.8,151.7 237.9,151.6 238.0,151.3 238.0,151.6 238.1,151.7 238.2,152.0 238.3,151.7 238.4,151.6 238.5,151.5 238.5,151.6 238.6,151.6 238.7,151.6 238.8,151.6 238.9,151.7 239.0,151.7 239.1,151.6 239.2,151.5 239.3,151.6 239.4,151.6 239.4,151.7 239.5,151.6 239.6,151.4 239.7,151.5 239.8,151.4 239.9,151.6 240.0,151.5 240.1,151.4 240.2,151.3 240.3,151.5"/>
<rect x="42.5" y="5.0" width="197.8" height="159.5" fill="none" stroke="#333" stroke-width="1.3"/>
<line x1="47.8" y1="164.5" x2="47.8" y2="167.5" stroke="#222" stroke-width="0.9"/>
<text x="47.8" y="175.5" text-anchor="middle" class="tk">10</text>
<line x1="75.3" y1="164.5" x2="75.3" y2="167.5" stroke="#222" stroke-width="0.9"/>
<text x="75.3" y="175.5" text-anchor="middle" class="tk">20</text>
<line x1="102.8" y1="164.5" x2="102.8" y2="167.5" stroke="#222" stroke-width="0.9"/>
<text x="102.8" y="175.5" text-anchor="middle" class="tk">30</text>
<line x1="130.3" y1="164.5" x2="130.3" y2="167.5" stroke="#222" stroke-width="0.9"/>
<text x="130.3" y="175.5" text-anchor="middle" class="tk">40</text>
<line x1="157.8" y1="164.5" x2="157.8" y2="167.5" stroke="#222" stroke-width="0.9"/>
<text x="157.8" y="175.5" text-anchor="middle" class="tk">50</text>
<line x1="185.3" y1="164.5" x2="185.3" y2="167.5" stroke="#222" stroke-width="0.9"/>
<text x="185.3" y="175.5" text-anchor="middle" class="tk">60</text>
<line x1="212.8" y1="164.5" x2="212.8" y2="167.5" stroke="#222" stroke-width="0.9"/>
<text x="212.8" y="175.5" text-anchor="middle" class="tk">70</text>
<line x1="240.3" y1="164.5" x2="240.3" y2="167.5" stroke="#222" stroke-width="0.9"/>
<text x="240.3" y="175.5" text-anchor="middle" class="tk">80</text>
<line x1="61.5" y1="164.5" x2="61.5" y2="166.5" stroke="#222" stroke-width="0.9"/>
<line x1="89.0" y1="164.5" x2="89.0" y2="166.5" stroke="#222" stroke-width="0.9"/>
<line x1="116.5" y1="164.5" x2="116.5" y2="166.5" stroke="#222" stroke-width="0.9"/>
<line x1="144.1" y1="164.5" x2="144.1" y2="166.5" stroke="#222" stroke-width="0.9"/>
<line x1="171.6" y1="164.5" x2="171.6" y2="166.5" stroke="#222" stroke-width="0.9"/>
<line x1="199.1" y1="164.5" x2="199.1" y2="166.5" stroke="#222" stroke-width="0.9"/>
<line x1="226.6" y1="164.5" x2="226.6" y2="166.5" stroke="#222" stroke-width="0.9"/>
<line x1="39.5" y1="155.5" x2="42.5" y2="155.5" stroke="#222" stroke-width="0.9"/>
<text x="37.5" y="157.9" text-anchor="end" class="tk">0</text>
<line x1="39.5" y1="124.1" x2="42.5" y2="124.1" stroke="#222" stroke-width="0.9"/>
<text x="37.5" y="126.5" text-anchor="end" class="tk">5,000</text>
<line x1="39.5" y1="92.8" x2="42.5" y2="92.8" stroke="#222" stroke-width="0.9"/>
<text x="37.5" y="95.2" text-anchor="end" class="tk">10,000</text>
<line x1="39.5" y1="61.4" x2="42.5" y2="61.4" stroke="#222" stroke-width="0.9"/>
<text x="37.5" y="63.8" text-anchor="end" class="tk">15,000</text>
<line x1="39.5" y1="30.0" x2="42.5" y2="30.0" stroke="#222" stroke-width="0.9"/>
<text x="37.5" y="32.4" text-anchor="end" class="tk">20,000</text>
<line x1="40.5" y1="139.8" x2="42.5" y2="139.8" stroke="#222" stroke-width="0.9"/>
<line x1="40.5" y1="108.4" x2="42.5" y2="108.4" stroke="#222" stroke-width="0.9"/>
<line x1="40.5" y1="77.1" x2="42.5" y2="77.1" stroke="#222" stroke-width="0.9"/>
<line x1="40.5" y1="45.7" x2="42.5" y2="45.7" stroke="#222" stroke-width="0.9"/>
<line x1="40.5" y1="14.3" x2="42.5" y2="14.3" stroke="#222" stroke-width="0.9"/>
<text x="141.3" y="189.5" text-anchor="middle" class="at">2θ/degree</text>
<text transform="translate(9.4 80) rotate(-90)" text-anchor="middle" class="at">Intensity/(a.u.)</text>
<text x="134.5" y="213.7" text-anchor="middle" class="pl">(a)</text>
<path d="M93.6 16.9L95.8 19.2L93.6 21.4L91.3 19.2Z" fill="#000"/>
<path d="M77.6 114.5L79.8 116.8L77.6 119.0L75.3 116.8Z" fill="#000"/>
<path d="M121.0 136.3L123.2 138.6L121.0 140.8L118.8 138.6Z" fill="#000"/>
<path d="M129.0 137.9L131.2 140.2L129.0 142.4L126.8 140.2Z" fill="#000"/>
<path d="M136.9 137.9L139.2 140.2L136.9 142.4L134.7 140.2Z" fill="#000"/>
<path d="M158.3 134.2L160.6 136.5L158.3 138.8L156.1 136.5Z" fill="#000"/>
<path d="M185.3 136.8L187.6 139.0L185.3 141.2L183.1 139.0Z" fill="#000"/>
<path d="M206.7 139.6L208.9 141.8L206.7 144.1L204.4 141.8Z" fill="#000"/>
<polygon points="54.30,139.40 54.94,141.12 56.77,141.20 55.34,142.34 55.83,144.10 54.30,143.09 52.77,144.10 53.26,142.34 51.83,141.20 53.66,141.12" fill="#000"/>
<polygon points="90.00,140.00 90.64,141.72 92.47,141.80 91.04,142.94 91.53,144.70 90.00,143.69 88.47,144.70 88.96,142.94 87.53,141.80 89.36,141.72" fill="#000"/>
<polygon points="118.50,140.90 119.14,142.62 120.97,142.70 119.54,143.84 120.03,145.60 118.50,144.59 116.97,145.60 117.46,143.84 116.03,142.70 117.86,142.62" fill="#000"/>
<rect x="43.0" y="139.7" width="3.2" height="3.2" fill="#000"/>
<rect x="67.8" y="144.1" width="3.2" height="3.2" fill="#000"/>
<rect x="74.3" y="135.4" width="3.2" height="3.2" fill="#000"/>
<rect x="114.9" y="139.6" width="3.2" height="3.2" fill="#000"/>
<rect x="205.4" y="144.4" width="3.2" height="3.2" fill="#000"/>
<path d="M44.7 113.5L49.1 113.5L46.9 116.9Z" fill="#fff" stroke="#555" stroke-width="0.65"/>
<path d="M71.2 128.5L75.6 128.5L73.4 131.9Z" fill="#fff" stroke="#555" stroke-width="0.65"/>
<path d="M98.6 102.6L103.0 102.6L100.8 106.0Z" fill="#fff" stroke="#555" stroke-width="0.65"/>
<path d="M121.3 139.5L125.7 139.5L123.5 142.9Z" fill="#fff" stroke="#555" stroke-width="0.65"/>
<path d="M189.4 142.7L193.8 142.7L191.6 146.1Z" fill="#fff" stroke="#555" stroke-width="0.65"/>
<path d="M144.2 10.9L146.4 13.2L144.2 15.4L141.9 13.2Z" fill="#000"/>
<text x="147.3" y="15.9" class="lg">Quartz (SiO<tspan font-size="3.8" dy="1.3">2</tspan><tspan dy="-1.3">, 23.8%)</tspan></text>
<polygon points="144.20,20.30 144.84,22.02 146.67,22.10 145.24,23.24 145.73,25.00 144.20,23.99 142.67,25.00 143.16,23.24 141.73,22.10 143.56,22.02" fill="#000"/>
<text x="147.3" y="24.9" class="lg">Kaolinite (Al<tspan font-size="3.8" dy="1.3">4</tspan><tspan dy="-1.3">(OH)</tspan><tspan font-size="3.8" dy="1.3">8</tspan><tspan dy="-1.3">(Si</tspan><tspan font-size="3.8" dy="1.3">4</tspan><tspan dy="-1.3">O</tspan><tspan font-size="3.8" dy="1.3">10</tspan><tspan dy="-1.3">), 17.3%)</tspan></text>
<rect x="142.2" y="31.1" width="3.5" height="3.5" fill="#000"/>
<text x="147.3" y="34.5" class="lg">Illite (K(Al<tspan font-size="3.8" dy="1.3">4</tspan><tspan dy="-1.3">Si</tspan><tspan font-size="3.8" dy="1.3">2</tspan><tspan dy="-1.3">O</tspan><tspan font-size="3.8" dy="1.3">9</tspan><tspan dy="-1.3">(OH)</tspan><tspan font-size="3.8" dy="1.3">3</tspan><tspan dy="-1.3">), 21.2%)</tspan></text>
<path d="M142.1 39.6L146.9 39.6L144.5 43.6Z" fill="#fff" stroke="#333" stroke-width="0.7"/>
<text x="147.3" y="44.0" class="lg">Pyrophyllite (Al<tspan font-size="3.8" dy="1.3">2</tspan><tspan dy="-1.3">Si</tspan><tspan font-size="3.8" dy="1.3">4</tspan><tspan dy="-1.3">O</tspan><tspan font-size="3.8" dy="1.3">10</tspan><tspan dy="-1.3">(OH)</tspan><tspan font-size="3.8" dy="1.3">2</tspan><tspan dy="-1.3">, 31.5%)</tspan></text>
<text x="142.4" y="53.9" class="lg">Amorphous materials (6.2%)</text>
<polyline class="cv" points="343.3,140.0 343.4,140.1 343.5,140.2 343.5,140.5 343.6,140.3 343.7,140.5 343.8,140.3 343.9,140.4 344.0,140.5 344.0,140.6 344.1,140.6 344.2,140.3 344.3,140.4 344.4,140.5 344.4,140.7 344.5,140.6 344.6,140.6 344.7,141.1 344.8,141.2 344.9,141.2 344.9,140.9 345.0,140.5 345.1,140.5 345.2,140.4 345.3,141.0 345.4,141.0 345.5,140.8 345.6,140.9 345.7,140.9 345.8,141.0 345.9,140.8 345.9,140.9 346.0,141.0 346.1,141.5 346.2,141.7 346.3,141.7 346.3,141.6 346.4,141.6 346.5,141.9 346.6,141.9 346.7,141.7 346.8,141.6 346.8,141.4 346.9,141.5 347.0,141.5 347.1,141.4 347.2,141.1 347.3,141.0 347.3,140.8 347.4,141.2 347.5,141.3 347.6,141.4 347.7,141.5 347.8,141.7 347.8,142.0 347.9,142.1 348.0,142.3 348.1,142.1 348.2,142.1 348.2,141.9 348.3,142.1 348.4,142.2 348.5,142.0 348.6,141.9 348.7,141.6 348.7,141.7 348.8,141.8 348.9,141.7 349.0,141.7 349.1,141.8 349.2,142.0 349.2,142.3 349.3,141.9 349.4,141.8 349.5,141.7 349.6,142.0 349.7,142.1 349.7,142.3 349.8,142.3 349.9,142.4 350.0,142.3 350.1,142.5 350.1,142.4 350.2,142.6 350.3,142.6 350.4,142.7 350.5,142.5 350.6,142.6 350.6,142.7 350.7,142.9 350.8,142.9 350.9,142.9 351.0,142.8 351.1,142.9 351.1,142.8 351.2,142.5 351.3,142.5 351.4,142.6 351.5,142.7 351.6,142.5 351.6,142.4 351.7,142.9 351.8,143.0 351.9,142.9 352.0,142.7 352.0,142.6 352.1,143.1 352.2,142.9 352.3,142.7 352.4,142.4 352.5,142.5 352.5,142.8 352.6,142.5 352.7,142.6 352.8,143.0 352.9,143.0 353.0,143.2 353.0,142.8 353.1,143.5 353.2,143.4 353.3,143.5 353.4,143.3 353.5,143.4 353.5,143.3 353.6,143.3 353.7,143.1 353.8,143.0 353.9,143.2 354.0,143.2 354.0,143.4 354.1,143.2 354.2,143.0 354.3,142.9 354.4,142.8 354.4,143.0 354.5,143.2 354.6,143.5 354.7,143.5 354.8,143.6 354.9,143.6 354.9,143.5 355.0,143.4 355.1,143.2 355.2,143.5 355.3,143.6 355.4,143.7 355.4,143.4 355.5,143.3 355.6,143.2 355.7,143.6 355.8,143.5 355.9,143.5 355.9,143.6 356.0,143.7 356.1,143.7 356.2,143.8 356.3,143.6 356.3,143.7 356.4,143.5 356.5,143.5 356.6,143.5 356.7,143.4 356.8,143.8 356.8,144.1 356.9,144.1 357.0,144.1 357.1,143.9 357.2,144.0 357.3,143.9 357.4,144.2 357.5,144.2 357.6,143.9 357.7,143.8 357.8,143.7 357.8,143.8 357.9,143.2 358.0,143.4 358.1,143.6 358.2,144.2 358.3,144.3 358.4,144.2 358.5,144.2 358.6,143.8 358.7,143.8 358.8,144.0 358.9,143.9 359.0,143.8 359.1,143.7 359.2,143.8 359.3,143.8 359.4,143.6 359.5,143.4 359.6,143.8 359.7,143.8 359.7,144.0 359.8,143.8 359.9,144.1 360.0,143.9 360.1,143.8 360.1,143.7 360.2,144.0 360.3,144.0 360.4,143.8 360.5,143.9 360.6,144.1 360.6,144.4 360.7,144.1 360.8,144.0 360.9,144.0 361.0,144.2 361.1,144.0 361.2,143.8 361.3,143.9 361.4,143.9 361.5,143.9 361.6,144.0 361.6,144.1 361.7,143.9 361.8,143.9 361.9,143.9 362.0,144.2 362.1,144.4 362.1,144.1 362.2,143.9 362.3,143.7 362.4,144.0 362.5,144.5 362.5,144.6 362.6,144.4 362.7,144.2 362.8,144.0 362.9,143.9 363.0,144.2 363.0,144.4 363.1,144.7 363.2,144.4 363.3,144.6 363.4,144.5 363.5,144.6 363.5,144.2 363.6,143.9 363.7,143.9 363.8,144.3 363.9,144.6 364.0,144.4 364.0,144.2 364.1,144.0 364.2,144.2 364.3,144.2 364.4,144.4 364.4,144.2 364.5,144.2 364.6,144.1 364.7,144.2 364.8,143.8 364.9,143.7 364.9,143.9 365.0,143.9 365.1,143.6 365.2,143.2 365.3,143.1 365.4,142.7 365.4,141.4 365.5,139.8 365.6,137.1 365.7,133.9 365.8,129.4 365.9,124.3 365.9,118.9 366.0,114.4 366.1,111.3 366.2,110.8 366.3,112.6 366.3,116.9 366.4,122.1 366.5,127.6 366.6,132.3 366.7,136.2 366.8,138.9 366.8,140.7 366.9,141.7 367.0,142.2 367.1,142.8 367.2,143.2 367.3,143.7 367.3,143.9 367.4,144.0 367.5,144.0 367.6,143.7 367.7,144.1 367.8,144.2 367.8,144.4 367.9,143.9 368.0,143.9 368.1,143.6 368.2,143.7 368.2,143.8 368.3,144.1 368.4,144.1 368.5,144.2 368.6,144.0 368.7,144.2 368.7,143.9 368.8,144.0 368.9,144.0 369.0,143.9 369.1,144.4 369.2,144.2 369.2,144.6 369.3,144.2 369.4,144.4 369.5,143.9 369.6,143.9 369.7,143.8 369.7,144.1 369.8,144.1 369.9,144.2 370.0,144.0 370.1,144.2 370.2,144.1 370.2,144.3 370.3,144.0 370.4,144.2 370.5,144.2 370.6,144.4 370.6,144.0 370.7,143.6 370.8,143.5 370.9,143.7 371.0,143.9 371.1,143.9 371.1,143.8 371.2,144.1 371.3,144.2 371.4,144.2 371.5,144.1 371.6,144.2 371.6,144.3 371.7,144.0 371.8,143.7 371.9,143.5 372.0,143.5 372.1,143.7 372.1,143.9 372.2,144.1 372.3,144.2 372.4,144.1 372.5,143.9 372.5,143.5 372.6,143.4 372.7,143.4 372.8,143.6 372.9,143.6 373.0,143.6 373.0,143.5 373.1,143.5 373.2,143.7 373.3,143.7 373.4,143.8 373.5,143.7 373.5,143.6 373.6,143.5 373.7,143.8 373.8,143.8 373.9,144.0 374.0,143.9 374.0,144.2 374.1,143.9 374.2,143.9 374.3,143.7 374.4,143.8 374.4,143.4 374.5,143.4 374.6,143.5 374.7,143.4 374.8,143.5 374.9,143.4 374.9,143.2 375.0,143.1 375.1,143.3 375.2,143.6 375.3,143.3 375.4,143.3 375.4,143.2 375.5,143.5 375.6,143.1 375.7,143.0 375.8,142.7 375.9,142.6 375.9,142.4 376.0,142.5 376.1,142.6 376.2,142.6 376.3,142.5 376.3,142.6 376.4,142.8 376.5,142.5 376.6,142.2 376.7,142.2 376.8,142.1 376.8,141.9 376.9,141.7 377.0,141.9 377.1,141.7 377.2,141.1 377.3,140.4 377.3,140.2 377.4,140.3 377.5,140.3 377.6,140.1 377.7,139.7 377.8,139.2 377.8,138.6 377.9,138.1 378.0,137.4 378.1,137.3 378.2,136.8 378.2,136.0 378.3,134.7 378.4,133.8 378.5,133.0 378.6,132.4 378.7,131.7 378.7,131.6 378.8,131.2 378.9,130.8 379.0,130.3 379.1,130.2 379.2,130.3 379.2,130.6 379.3,131.2 379.4,131.4 379.5,131.9 379.6,132.0 379.7,132.4 379.7,132.1 379.8,131.9 379.9,132.0 380.0,132.3 380.1,132.0 380.2,131.3 380.2,129.8 380.3,128.0 380.4,125.2 380.5,121.8 380.6,116.9 380.6,110.2 380.7,101.4 380.8,90.8 380.9,78.3 381.0,64.3 381.1,50.2 381.1,37.1 381.2,27.9 381.3,24.4 381.4,28.0 381.5,37.4 381.6,50.3 381.6,64.4 381.7,78.3 381.8,90.5 381.9,101.6 382.0,110.1 382.1,117.4 382.1,122.3 382.2,126.3 382.3,129.0 382.4,131.2 382.5,133.0 382.5,134.4 382.6,135.3 382.7,136.1 382.8,136.3 382.9,136.9 383.0,137.2 383.0,137.6 383.1,137.8 383.2,138.0 383.3,138.3 383.4,138.6 383.5,138.8 383.6,139.0 383.7,138.9 383.8,139.1 383.9,139.3 384.0,139.3 384.1,139.3 384.2,139.5 384.3,140.1 384.4,139.7 384.4,140.2 384.5,140.1 384.6,140.6 384.7,140.4 384.8,140.3 384.9,140.0 384.9,140.2 385.0,140.0 385.1,140.1 385.2,140.2 385.3,140.3 385.4,140.3 385.4,140.2 385.5,140.2 385.6,140.5 385.7,140.6 385.8,140.6 385.9,140.4 385.9,140.3 386.0,140.5 386.1,140.5 386.2,140.6 386.3,140.8 386.4,141.0 386.5,140.9 386.6,141.2 386.7,141.0 386.8,140.9 386.8,140.7 386.9,140.9 387.0,141.1 387.1,141.6 387.2,141.7 387.3,141.7 387.3,141.3 387.4,141.2 387.5,141.2 387.6,141.5 387.7,141.6 387.8,141.5 387.8,141.2 387.9,141.3 388.0,141.5 388.1,141.6 388.2,141.5 388.3,141.5 388.4,141.2 388.5,141.0 388.6,141.2 388.7,141.1 388.7,141.3 388.8,141.1 388.9,141.4 389.0,141.5 389.1,141.6 389.2,141.3 389.3,141.1 389.4,141.4 389.5,141.5 389.6,141.7 389.7,142.0 389.8,142.1 389.9,141.9 390.0,141.8 390.1,141.8 390.2,142.0 390.2,141.8 390.3,141.8 390.4,141.8 390.5,142.1 390.6,142.0 390.6,141.8 390.7,141.4 390.8,141.7 390.9,141.9 391.0,141.9 391.1,141.7 391.1,141.6 391.2,141.5 391.3,141.1 391.4,141.0 391.5,141.3 391.6,141.6 391.6,141.8 391.7,141.8 391.8,141.9 391.9,141.6 392.0,141.4 392.1,141.2 392.1,141.3 392.2,141.2 392.3,141.2 392.4,141.3 392.5,141.1 392.5,140.9 392.6,141.1 392.7,141.0 392.8,140.6 392.9,140.1 393.0,140.1 393.1,139.4 393.2,138.9 393.3,137.8 393.4,136.6 393.5,134.5 393.5,132.0 393.6,128.6 393.7,123.6 393.8,117.0 393.9,108.8 394.0,99.4 394.0,89.7 394.1,80.7 394.2,74.7 394.3,73.9 394.4,78.2 394.4,86.3 394.5,95.9 394.6,105.7 394.7,114.4 394.8,121.9 394.9,127.3 394.9,131.7 395.0,134.9 395.1,137.4 395.2,138.7 395.3,139.5 395.4,140.5 395.4,140.9 395.5,141.3 395.6,141.3 395.7,141.9 395.8,142.2 395.9,142.5 395.9,142.6 396.0,142.8 396.1,142.7 396.2,142.8 396.3,143.0 396.4,143.2 396.5,143.5 396.6,143.6 396.7,143.7 396.8,143.7 396.9,144.0 397.0,143.9 397.1,144.2 397.2,144.2 397.3,144.1 397.4,144.5 397.5,144.3 397.6,144.3 397.7,144.1 397.8,144.3 397.8,144.0 397.9,144.3 398.0,144.3 398.1,144.8 398.2,144.5 398.3,144.4 398.3,144.0 398.4,143.9 398.5,143.9 398.6,143.7 398.7,143.4 398.7,143.0 398.8,143.0 398.9,142.9 399.0,142.6 399.1,142.2 399.2,142.0 399.2,142.1 399.3,142.2 399.4,142.1 399.5,142.4 399.6,142.7 399.7,143.3 399.7,143.6 399.8,144.1 399.9,144.2 400.0,144.9 400.1,145.0 400.2,145.3 400.2,144.9 400.3,144.5 400.4,144.5 400.5,144.7 400.6,145.5 400.6,145.4 400.7,145.7 400.8,145.4 400.9,145.8 401.0,145.2 401.1,145.3 401.1,145.1 401.2,145.6 401.3,145.6 401.4,145.5 401.5,145.6 401.6,145.7 401.6,146.0 401.7,146.0 401.8,146.1 401.9,146.0 402.0,145.7 402.1,145.3 402.1,145.5 402.2,145.9 402.3,146.1 402.4,145.8 402.5,145.8 402.6,145.8 402.7,145.7 402.8,146.0 402.9,146.1 403.0,146.1 403.0,145.6 403.1,145.5 403.2,145.7 403.3,146.0 403.4,146.1 403.5,146.0 403.5,145.9 403.6,145.8 403.7,145.9 403.8,146.1 403.9,146.6 404.0,146.3 404.0,146.2 404.1,146.0 404.2,146.1 404.3,145.9 404.4,145.6 404.5,145.7 404.5,145.9 404.6,146.1 404.7,146.2 404.8,146.3 404.9,146.3 404.9,146.2 405.0,146.0 405.1,146.0 405.2,146.1 405.3,146.1 405.4,146.1 405.4,145.8 405.5,145.6 405.6,145.3 405.7,145.4 405.8,145.6 405.9,145.9 405.9,145.6 406.0,145.4 406.1,145.1 406.2,144.6 406.3,143.6 406.4,142.1 406.4,140.2 406.5,137.9 406.6,135.2 406.7,132.3 406.8,129.4 406.8,127.4 406.9,126.4 407.0,127.3 407.1,129.2 407.2,132.1 407.3,135.2 407.3,138.1 407.4,140.7 407.5,142.5 407.6,143.8 407.7,144.4 407.8,144.6 407.8,144.9 407.9,145.0 408.0,145.6 408.1,145.7 408.2,146.2 408.3,146.2 408.3,146.4 408.4,146.2 408.5,146.2 408.6,146.2 408.7,146.3 408.7,146.2 408.8,146.2 408.9,146.5 409.0,146.6 409.1,146.5 409.2,146.1 409.2,145.9 409.3,146.1 409.4,146.2 409.5,146.5 409.6,146.6 409.7,147.0 409.7,146.8 409.8,146.7 409.9,146.4 410.0,146.6 410.1,146.5 410.2,146.4 410.2,146.6 410.3,146.6 410.4,146.7 410.5,146.6 410.6,146.6 410.7,146.5 410.8,146.6 410.9,146.6 411.0,146.5 411.1,146.1 411.1,145.9 411.2,145.7 411.3,145.8 411.4,145.8 411.5,145.6 411.6,145.5 411.6,145.4 411.7,145.5 411.8,145.1 411.9,144.7 412.0,143.9 412.1,142.8 412.1,140.9 412.2,138.8 412.3,136.3 412.4,133.1 412.5,129.3 412.5,125.3 412.6,122.2 412.7,121.0 412.8,122.2 412.9,124.8 413.0,128.7 413.0,132.7 413.1,136.4 413.2,139.4 413.3,141.3 413.4,142.7 413.5,143.6 413.5,144.6 413.6,145.4 413.7,145.8 413.8,146.0 413.9,145.9 414.0,146.3 414.1,146.4 414.2,146.3 414.3,146.2 414.4,146.2 414.5,145.9 414.5,146.1 414.6,146.3 414.7,146.5 414.8,146.4 414.9,146.7 414.9,146.6 415.0,146.6 415.1,146.6 415.2,146.9 415.3,147.1 415.4,146.6 415.4,146.3 415.5,146.4 415.6,146.7 415.7,147.0 415.8,146.7 415.9,146.8 415.9,146.5 416.0,146.9 416.1,146.8 416.2,147.0 416.3,146.7 416.4,146.5 416.4,146.2 416.5,146.2 416.6,146.3 416.7,146.6 416.8,146.9 416.8,147.1 416.9,146.7 417.0,146.5 417.1,146.3 417.2,146.7 417.3,146.7 417.3,146.8 417.4,146.5 417.5,146.1 417.6,145.9 417.7,145.7 417.8,145.9 417.9,145.7 418.0,145.2 418.1,144.6 418.2,143.2 418.3,140.8 418.3,136.8 418.4,131.6 418.5,125.1 418.6,118.1 418.7,112.2 418.7,108.6 418.8,109.2 418.9,113.5 419.0,120.5 419.1,127.6 419.2,133.7 419.2,138.6 419.3,141.7 419.4,143.7 419.5,144.7 419.6,145.4 419.7,145.7 419.7,146.0 419.8,146.0 419.9,146.0 420.0,145.8 420.1,145.4 420.2,144.9 420.2,144.1 420.3,143.3 420.4,142.1 420.5,140.5 420.6,138.5 420.6,136.6 420.7,134.3 420.8,132.6 420.9,131.2 421.0,131.0 421.1,131.4 421.1,132.8 421.2,134.6 421.3,137.0 421.4,139.0 421.5,141.1 421.6,142.5 421.6,143.8 421.7,144.8 421.8,145.4 421.9,146.4 422.0,146.6 422.1,146.7 422.1,146.5 422.2,146.8 422.3,146.6 422.4,146.6 422.5,146.7 422.6,146.9 422.6,147.0 422.7,147.1 422.8,147.1 422.9,146.9 423.0,146.4 423.0,146.0 423.1,145.5 423.2,144.8 423.3,143.7 423.4,142.2 423.5,140.8 423.5,139.5 423.6,138.3 423.7,137.4 423.8,137.2 423.9,138.4 424.0,139.9 424.0,141.6 424.1,143.0 424.2,144.2 424.3,145.1 424.4,145.9 424.5,146.2 424.5,146.8 424.6,146.8 424.7,147.2 424.8,147.2 424.9,147.4 424.9,147.1 425.0,147.2 425.1,147.1 425.2,147.3 425.3,147.2 425.4,147.4 425.4,147.1 425.5,147.1 425.6,146.8 425.7,147.3 425.8,146.9 425.9,147.0 425.9,146.6 426.0,147.1 426.1,147.1 426.2,147.4 426.3,147.0 426.4,147.0 426.4,146.9 426.5,147.1 426.6,147.3 426.7,147.5 426.8,147.4 426.9,147.2 427.0,147.3 427.1,147.6 427.2,147.7 427.3,147.7 427.3,147.3 427.4,147.2 427.5,147.4 427.6,147.3 427.7,147.3 427.8,147.0 427.8,147.1 427.9,147.6 428.0,147.2 428.1,147.3 428.2,147.1 428.3,147.3 428.3,147.2 428.4,147.1 428.5,147.5 428.6,147.5 428.7,147.2 428.7,147.0 428.8,147.4 428.9,147.6 429.0,147.1 429.1,147.0 429.2,147.0 429.2,147.4 429.3,147.0 429.4,146.7 429.5,145.9 429.6,145.2 429.7,144.1 429.7,142.0 429.8,139.4 429.9,137.2 430.0,135.7 430.1,134.9 430.2,135.3 430.2,137.2 430.3,139.6 430.4,141.8 430.5,143.6 430.6,145.0 430.7,146.0 430.7,146.4 430.8,146.8 430.9,146.9 431.0,147.3 431.1,147.4 431.1,147.5 431.2,147.4 431.3,147.4 431.4,147.6 431.5,147.6 431.6,147.8 431.6,147.9 431.7,147.8 431.8,147.5 431.9,147.4 432.0,147.5 432.1,147.5 432.1,147.2 432.2,146.8 432.3,146.9 432.4,147.2 432.5,147.6 432.6,147.3 432.6,147.4 432.7,147.1 432.8,147.4 432.9,147.2 433.0,147.2 433.0,147.0 433.1,146.6 433.2,146.5 433.3,146.3 433.4,146.5 433.5,146.6 433.5,146.9 433.6,146.7 433.7,146.3 433.8,145.6 433.9,144.4 434.0,142.6 434.0,139.0 434.1,133.3 434.2,125.5 434.3,116.7 434.4,108.7 434.5,104.2 434.5,105.4 434.6,111.5 434.7,119.9 434.8,127.9 434.9,135.0 434.9,139.9 435.0,142.9 435.1,144.6 435.2,145.6 435.3,146.3 435.4,146.5 435.4,146.4 435.5,146.7 435.6,146.7 435.7,146.8 435.8,147.1 435.9,147.4 435.9,147.5 436.0,147.2 436.1,147.1 436.2,147.0 436.3,147.1 436.4,147.2 436.4,147.3 436.5,147.4 436.6,147.7 436.7,147.4 436.8,147.1 436.8,146.7 436.9,147.1 437.0,147.3 437.1,147.7 437.2,147.4 437.3,147.1 437.3,147.0 437.4,147.1 437.5,147.1 437.6,147.1 437.7,147.1 437.8,147.2 437.8,146.9 437.9,146.2 438.0,145.7 438.1,145.0 438.2,144.0 438.3,142.1 438.3,139.6 438.4,137.2 438.5,135.0 438.6,133.9 438.7,133.9 438.7,135.5 438.8,137.9 438.9,140.4 439.0,142.5 439.1,144.2 439.2,145.6 439.2,146.6 439.3,147.2 439.4,147.3 439.5,147.3 439.6,147.0 439.7,146.9 439.7,147.2 439.8,147.5 439.9,147.7 440.0,147.7 440.1,147.6 440.2,147.5 440.2,147.4 440.3,147.5 440.4,147.6 440.5,147.7 440.6,147.6 440.7,147.5 440.7,147.4 440.8,147.2 440.9,147.5 441.0,147.2 441.1,147.3 441.1,147.5 441.2,147.8 441.3,147.7 441.4,147.3 441.5,147.5 441.6,147.7 441.6,147.8 441.7,147.6 441.8,147.6 441.9,148.0 442.0,148.0 442.1,147.9 442.1,147.4 442.2,147.4 442.3,147.6 442.4,147.8 442.5,147.7 442.6,147.5 442.6,147.4 442.7,147.4 442.8,147.5 442.9,147.2 443.0,147.2 443.0,147.1 443.1,147.4 443.2,147.2 443.3,147.3 443.4,147.4 443.5,147.4 443.5,147.3 443.6,147.2 443.7,147.5 443.8,147.2 443.9,147.3 444.0,146.9 444.0,147.2 444.1,147.4 444.2,147.5 444.3,147.6 444.4,147.4 444.5,147.7 444.5,147.9 444.6,148.2 444.7,147.7 444.8,147.4 444.9,147.4 444.9,147.5 445.0,147.7 445.1,147.5 445.2,147.4 445.3,147.5 445.4,147.5 445.4,147.8 445.5,147.5 445.6,147.6 445.7,147.4 445.8,147.7 445.9,147.8 445.9,148.0 446.0,148.0 446.1,147.9 446.2,147.3 446.3,147.4 446.4,147.3 446.4,147.7 446.5,147.5 446.6,147.3 446.7,147.2 446.8,147.4 446.8,147.8 446.9,147.8 447.0,147.6 447.1,147.6 447.2,147.5 447.3,148.0 447.3,147.8 447.4,147.8 447.5,147.6 447.6,147.9 447.7,147.8 447.8,147.9 447.8,147.6 447.9,148.0 448.0,147.7 448.1,147.5 448.2,147.4 448.3,147.6 448.3,148.1 448.4,148.3 448.5,148.3 448.6,147.9 448.7,147.6 448.8,147.4 448.8,147.3 448.9,147.4 449.0,147.0 449.1,147.2 449.2,147.2 449.2,148.0 449.3,148.1 449.4,148.0 449.5,147.7 449.6,147.4 449.7,147.4 449.7,147.0 449.8,147.4 449.9,147.6 450.0,147.7 450.1,147.5 450.2,147.5 450.2,147.8 450.3,147.9 450.4,147.6 450.5,147.4 450.6,147.4 450.7,147.6 450.8,147.4 450.9,147.5 451.0,147.4 451.1,147.8 451.1,147.6 451.2,147.9 451.3,148.0 451.4,148.1 451.5,148.1 451.6,147.7 451.6,147.4 451.7,147.4 451.8,147.8 451.9,148.1 452.0,148.4 452.1,148.2 452.1,148.0 452.2,147.8 452.3,147.7 452.4,147.7 452.5,147.4 452.6,147.5 452.6,147.4 452.7,147.6 452.8,147.2 452.9,147.5 453.0,147.3 453.0,147.6 453.1,147.1 453.2,147.1 453.3,147.1 453.4,147.1 453.5,147.1 453.5,146.7 453.6,146.2 453.7,146.0 453.8,145.9 453.9,145.7 454.0,145.4 454.0,144.8 454.1,144.4 454.2,143.9 454.3,143.5 454.4,143.6 454.5,143.2 454.6,143.0 454.7,143.1 454.8,142.9 454.9,143.1 454.9,143.7 455.0,144.5 455.1,145.0 455.2,145.4 455.3,145.6 455.4,145.4 455.4,145.8 455.5,146.1 455.6,146.7 455.7,146.9 455.8,147.0 455.9,147.3 455.9,147.5 456.0,147.9 456.1,147.5 456.2,147.4 456.3,147.2 456.4,147.3 456.4,147.2 456.5,147.4 456.6,147.5 456.7,147.7 456.8,147.6 456.9,147.7 457.0,147.4 457.1,147.1 457.2,147.1 457.3,147.6 457.3,147.7 457.4,147.7 457.5,147.4 457.6,147.6 457.7,147.5 457.8,147.5 457.8,147.3 457.9,147.5 458.0,147.5 458.1,147.3 458.2,147.3 458.3,147.3 458.3,147.6 458.4,147.5 458.5,147.8 458.6,147.8 458.7,147.6 458.8,147.3 458.8,146.8 458.9,147.0 459.0,146.9 459.1,147.0 459.2,146.5 459.2,145.9 459.3,145.7 459.4,145.5 459.5,145.8 459.6,145.5 459.7,145.7 459.7,145.9 459.8,145.9 459.9,146.2 460.0,146.3 460.1,146.7 460.2,147.0 460.2,147.4 460.3,147.6 460.4,147.2 460.5,147.1 460.6,147.3 460.7,147.6 460.7,147.4 460.8,147.3 460.9,147.1 461.0,147.3 461.1,147.6 461.1,147.9 461.2,147.8 461.3,147.7 461.4,147.6 461.5,147.7 461.6,147.6 461.6,147.9 461.7,148.0 461.8,148.1 461.9,147.7 462.0,147.7 462.1,147.3 462.1,147.4 462.2,147.6 462.3,148.1 462.4,148.3 462.5,148.3 462.6,147.9 462.6,147.7 462.7,147.6 462.8,147.6 462.9,147.6 463.0,147.8 463.0,147.5 463.1,147.4 463.2,147.1 463.3,147.0 463.4,147.1 463.5,147.4 463.5,147.6 463.6,147.8 463.7,147.8 463.8,148.1 463.9,147.9 464.0,148.0 464.0,147.8 464.1,147.9 464.2,147.8 464.3,147.5 464.4,147.4 464.5,147.3 464.5,147.6 464.6,147.7 464.7,147.7 464.8,147.7 464.9,148.0 464.9,148.1 465.0,148.2 465.1,147.9 465.2,147.7 465.3,147.6 465.4,147.6 465.5,147.8 465.6,147.8 465.7,147.7 465.8,147.6 465.9,147.9 465.9,148.0 466.0,148.1 466.1,147.8 466.2,147.7 466.3,147.4 466.4,147.4 466.4,147.8 466.5,147.7 466.6,148.0 466.7,147.6 466.8,147.7 466.9,147.6 466.9,147.8 467.0,147.9 467.1,147.5 467.2,147.5 467.3,147.3 467.3,147.9 467.4,147.8 467.5,148.0 467.6,147.4 467.7,147.4 467.8,147.2 467.8,147.5 467.9,147.5 468.0,147.8 468.1,147.5 468.2,147.5 468.3,147.6 468.3,147.5 468.4,147.3 468.5,147.2 468.6,147.2 468.7,147.4 468.8,147.4 468.9,147.6 469.0,147.4 469.1,147.7 469.2,147.7 469.3,147.3 469.4,146.9 469.5,146.8 469.6,146.8 469.7,146.5 469.7,146.3 469.8,145.5 469.9,145.1 470.0,144.2 470.1,144.2 470.2,143.7 470.2,143.3 470.3,142.3 470.4,141.8 470.5,141.0 470.6,140.7 470.7,140.6 470.7,140.9 470.8,141.0 470.9,141.1 471.0,141.5 471.1,142.1 471.1,142.8 471.2,143.6 471.3,144.3 471.4,144.7 471.5,145.2 471.6,145.6 471.6,146.3 471.7,146.7 471.8,147.0 471.9,146.6 472.0,146.8 472.1,147.0 472.1,147.4 472.2,147.0 472.3,146.8 472.4,147.1 472.5,147.3 472.6,147.4 472.6,147.3 472.7,147.7 472.8,147.8 472.9,147.7 473.0,147.5 473.0,147.7 473.1,147.9 473.2,148.0 473.3,147.5 473.4,147.2 473.5,147.4 473.5,147.5 473.6,147.7 473.7,147.7 473.8,147.8 473.9,147.8 474.0,147.8 474.0,147.7 474.1,147.5 474.2,147.8 474.3,147.8 474.4,147.7 474.5,147.5 474.5,147.7 474.6,147.7 474.7,147.3 474.8,147.4 474.9,147.7 475.0,148.1 475.0,148.0 475.1,148.0 475.2,147.7 475.3,147.7 475.4,147.4 475.4,147.6 475.5,147.7 475.6,148.0 475.7,147.8 475.8,147.9 475.9,147.6 476.0,147.4 476.1,147.3 476.2,147.4 476.3,147.5 476.4,147.7 476.4,147.8 476.5,147.7 476.6,147.7 476.7,147.4 476.8,147.5 476.9,147.3 476.9,147.5 477.0,147.5 477.1,147.6 477.2,147.4 477.3,147.2 477.3,147.1 477.4,147.4 477.5,147.7 477.6,147.9 477.7,148.0 477.8,148.0 477.8,147.9 477.9,147.6 478.0,147.3 478.1,147.3 478.2,147.4 478.3,147.6 478.3,147.7 478.4,147.6 478.5,147.6 478.6,147.7 478.7,147.7 478.8,147.6 478.8,147.5 478.9,147.2 479.0,147.2 479.1,147.2 479.2,147.2 479.2,146.7 479.3,146.4 479.4,145.6 479.5,144.5 479.6,142.8 479.7,141.1 479.7,139.5 479.8,138.4 479.9,138.0 480.0,138.2 480.1,139.0 480.2,140.3 480.2,142.0 480.3,143.5 480.4,144.8 480.5,145.6 480.6,146.5 480.7,147.1 480.7,147.4 480.8,147.2 480.9,147.4 481.0,147.7 481.1,148.2 481.1,148.0 481.2,147.6 481.3,147.4 481.4,147.4 481.5,147.6 481.6,147.5 481.6,147.8 481.7,147.9 481.8,147.7 481.9,147.6 482.0,147.3 482.1,147.4 482.1,147.3 482.2,147.3 482.3,147.7 482.4,147.6 482.5,147.8 482.6,147.9 482.6,148.2 482.7,148.2 482.8,147.9 482.9,147.6 483.0,147.6 483.1,147.7 483.1,148.0 483.2,148.3 483.3,148.3 483.4,148.3 483.5,148.1 483.5,147.8 483.6,147.6 483.7,147.3 483.8,147.4 483.9,147.7 484.0,147.7 484.0,148.0 484.1,148.1 484.2,148.3 484.3,148.0 484.4,147.9 484.5,147.9 484.5,147.8 484.6,147.7 484.7,147.7 484.8,147.9 484.9,148.1 485.0,148.1 485.0,148.0 485.1,147.7 485.2,147.4 485.3,147.6 485.4,147.5 485.4,147.7 485.5,147.6 485.6,147.9 485.7,147.6 485.8,147.2 485.9,147.2 485.9,146.9 486.0,147.0 486.1,146.5 486.2,146.2 486.3,145.8 486.4,145.3 486.4,145.1 486.5,144.5 486.6,144.6 486.7,144.6 486.8,145.1 486.9,145.4 486.9,145.9 487.0,146.6 487.1,146.7 487.2,146.9 487.3,146.8 487.3,147.4 487.4,147.4 487.5,147.6 487.6,147.4 487.7,147.6 487.8,147.7 487.9,147.6 488.0,147.2 488.1,147.3 488.2,147.4 488.3,147.5 488.4,147.0 488.5,146.7 488.6,146.1 488.7,145.9 488.8,145.4 488.8,144.1 488.9,141.7 489.0,138.3 489.1,134.0 489.2,129.5 489.2,126.1 489.3,126.0 489.4,128.2 489.5,132.4 489.6,136.7 489.7,140.9 489.7,143.6 489.8,145.2 489.9,146.2 490.0,147.1 490.1,147.2 490.2,147.3 490.2,147.2 490.3,147.5 490.4,147.6 490.5,147.4 490.6,146.9 490.7,146.6 490.8,146.6 490.9,146.3 491.0,146.0 491.1,145.4 491.1,145.3 491.2,144.8 491.3,145.0 491.4,145.1 491.5,145.8 491.6,146.0 491.6,146.3 491.7,146.2 491.8,146.7 491.9,147.0 492.0,147.4 492.1,147.3 492.1,147.4 492.2,147.6 492.3,147.7 492.4,147.9 492.5,147.8 492.6,147.8 492.6,147.5 492.7,147.6 492.8,147.7 492.9,148.1 493.0,147.6 493.1,147.3 493.1,146.9 493.2,147.1 493.3,147.5 493.4,147.9 493.5,148.0 493.5,147.9 493.6,147.9 493.7,147.9 493.8,147.9 493.9,147.8 494.0,147.5 494.0,147.4 494.1,147.6 494.2,147.9 494.3,147.9 494.4,147.6 494.5,147.6 494.5,147.8 494.6,147.8 494.7,147.8 494.8,147.1 494.9,147.1 495.0,146.9 495.0,147.1 495.1,147.3 495.2,147.7 495.3,147.7 495.4,147.7 495.5,147.9 495.6,147.8 495.7,147.5 495.8,147.5 495.9,147.1 495.9,147.2 496.0,147.5 496.1,147.5 496.2,147.5 496.3,147.2 496.4,147.5 496.4,147.6 496.5,147.8 496.6,147.6 496.7,147.4 496.8,147.2 496.9,147.1 496.9,147.0 497.0,146.9 497.1,146.9 497.2,146.6 497.3,146.2 497.3,145.8 497.4,145.5 497.5,145.2 497.6,144.8 497.7,145.1 497.8,145.6 497.8,146.0 497.9,146.3 498.0,146.8 498.1,147.2 498.2,147.2 498.3,147.2 498.4,147.6 498.5,147.6 498.6,147.5 498.7,147.4 498.8,147.1 498.8,147.2 498.9,147.2 499.0,147.4 499.1,147.2 499.2,147.1 499.2,146.7 499.3,146.4 499.4,146.0 499.5,145.2 499.6,144.1 499.7,142.2 499.7,140.3 499.8,137.9 499.9,136.1 500.0,134.8 500.1,134.9 500.2,135.9 500.2,137.7 500.3,139.8 500.4,141.8 500.5,143.7 500.6,145.1 500.7,146.1 500.7,146.7 500.8,147.0 500.9,147.2 501.0,147.4 501.1,147.7 501.2,147.9 501.2,147.8 501.3,147.5 501.4,147.4 501.5,147.5 501.6,147.8 501.7,147.8 501.8,147.8 501.9,147.7 502.0,147.8 502.1,147.9 502.1,148.2 502.2,148.3 502.3,148.1 502.4,147.8 502.5,147.8 502.6,147.7 502.6,147.9 502.7,147.8 502.8,147.7 502.9,147.7 503.0,147.8 503.1,148.0 503.1,148.1 503.2,147.8 503.3,147.5 503.4,147.2 503.5,147.3 503.5,147.5 503.6,147.8 503.7,147.8 503.8,147.8 503.9,147.6 504.0,147.4 504.0,147.1 504.1,147.0 504.2,147.3 504.3,147.2 504.4,147.3 504.5,147.0 504.6,146.5 504.7,145.9 504.8,145.7 504.9,145.6 505.0,145.6 505.0,145.7 505.1,145.9 505.2,146.1 505.3,146.2 505.4,146.3 505.4,146.6 505.5,146.7 505.6,147.0 505.7,147.1 505.8,147.4 505.9,147.7 506.0,147.7 506.1,147.5 506.2,147.4 506.3,147.4 506.4,147.2 506.4,147.3 506.5,147.4 506.6,147.7 506.7,148.0 506.8,148.2 506.9,148.3 506.9,148.2 507.0,148.0 507.1,148.0 507.2,147.9 507.3,147.8 507.3,147.9 507.4,148.1 507.5,148.2 507.6,148.1 507.7,148.1 507.8,147.9 507.8,147.7 507.9,147.4 508.0,147.7 508.1,147.6 508.2,147.9 508.3,148.0 508.3,147.9 508.4,147.7 508.5,147.4 508.6,147.5 508.7,147.5 508.8,147.7 508.8,147.3 508.9,147.0 509.0,146.9 509.1,147.1 509.2,147.1 509.3,146.7 509.3,146.5 509.4,146.0 509.5,146.1 509.6,146.0 509.7,146.1 509.7,146.0 509.8,146.1 509.9,145.9 510.0,146.0 510.1,146.2 510.2,146.6 510.2,146.7 510.3,146.7 510.4,146.9 510.5,147.5 510.6,147.9 510.7,148.1 510.7,147.7 510.8,147.5 510.9,147.5 511.0,147.9 511.1,148.0 511.2,147.9 511.2,148.1 511.3,148.3 511.4,148.3 511.5,147.9 511.6,148.0 511.6,147.9 511.7,148.2 511.8,148.2 511.9,148.2 512.0,148.0 512.1,147.7 512.1,147.9 512.2,147.9 512.3,148.2 512.4,148.3 512.5,148.2 512.6,148.1 512.6,147.9 512.7,147.9 512.8,148.0 512.9,148.0 513.0,147.9 513.1,147.6 513.2,147.3 513.3,147.5 513.4,147.5 513.5,147.7 513.5,147.5 513.6,147.4 513.7,147.3 513.8,147.4 513.9,147.9 514.0,148.1 514.0,148.2 514.1,147.6 514.2,147.4 514.3,147.1 514.4,147.4 514.5,147.3 514.5,147.4 514.6,147.1 514.7,147.0 514.8,146.6 514.9,146.5 515.0,146.2 515.0,146.1 515.1,145.8 515.2,145.6 515.3,145.6 515.4,145.5 515.4,145.4 515.5,145.1 515.6,144.7 515.7,144.6 515.8,144.1 515.9,144.0 515.9,143.6 516.0,143.7 516.1,143.7 516.2,143.8 516.3,144.3 516.4,144.6 516.5,144.7 516.6,145.1 516.7,145.9 516.8,146.4 516.9,146.3 516.9,146.2 517.0,146.1 517.1,146.3 517.2,146.9 517.3,147.1 517.4,147.1 517.5,147.0 517.6,147.1 517.7,147.4 517.8,148.0 517.8,148.1 517.9,148.2 518.0,147.8 518.1,147.8 518.2,147.2 518.3,147.4 518.3,147.5 518.4,148.2 518.5,148.1 518.6,148.2 518.7,147.6 518.8,147.8 518.8,147.7 518.9,148.0 519.0,147.5 519.1,147.7 519.2,147.8 519.3,148.1 519.3,148.0 519.4,147.9 519.5,148.1 519.6,148.1 519.7,148.3 519.7,148.2 519.8,148.1 519.9,147.7 520.0,147.4 520.1,147.4 520.2,147.6 520.2,148.0 520.3,148.0 520.4,147.9 520.5,147.6 520.6,147.7 520.7,147.7 520.7,148.1 520.8,148.0 520.9,148.1 521.0,148.3 521.1,148.3 521.2,148.3 521.2,147.8 521.3,147.6 521.4,147.5 521.5,147.8 521.6,148.1 521.6,147.9 521.7,147.9 521.8,148.0 521.9,148.3 522.0,148.3 522.1,148.0 522.1,147.9 522.2,148.0 522.3,148.4 522.4,148.2 522.5,148.5 522.6,148.4 522.7,147.8 522.8,147.7 522.9,147.5 523.0,147.8 523.1,147.9 523.2,148.2 523.3,148.0 523.4,148.0 523.5,147.8 523.5,147.7 523.6,147.9 523.7,147.9 523.8,148.1 523.9,148.3 524.0,148.2 524.0,148.3 524.1,147.8 524.2,147.5 524.3,147.4 524.4,147.5 524.5,147.6 524.5,147.8 524.6,147.5 524.7,147.4 524.8,146.9 524.9,147.4 525.0,147.4 525.0,147.5 525.1,147.1 525.2,147.1 525.3,147.0 525.4,147.0 525.4,146.3 525.5,146.3 525.6,146.0 525.7,146.0 525.8,145.7 525.9,145.3 525.9,144.8 526.0,144.5 526.1,144.4 526.2,144.3 526.3,144.2 526.4,144.2 526.4,144.6 526.5,145.0 526.6,145.4 526.7,145.9 526.8,145.9 526.9,146.2 526.9,146.4 527.0,146.9 527.1,146.9 527.2,147.0 527.3,147.3 527.4,147.5 527.5,147.4 527.6,147.4 527.7,147.3 527.8,147.4 527.8,147.5 527.9,147.4 528.0,147.3 528.1,147.4 528.2,147.4 528.3,147.6 528.3,147.3 528.4,146.9 528.5,146.4 528.6,146.1 528.7,146.2 528.8,146.2 528.8,145.7 528.9,145.2 529.0,144.6 529.1,144.5 529.2,144.2 529.3,144.4 529.4,144.6 529.5,144.8 529.6,144.9 529.7,145.4 529.7,145.9 529.8,147.1 529.9,147.5 530.0,147.7 530.1,147.2 530.2,147.4 530.2,147.3 530.3,147.5 530.4,147.5 530.5,147.6 530.6,148.0 530.7,148.2 530.7,148.3 530.8,148.0 530.9,147.7 531.0,147.6 531.1,147.7 531.2,148.0 531.2,148.3 531.3,148.3 531.4,148.1 531.5,148.1 531.6,147.8 531.6,147.9 531.7,148.1 531.8,148.5 531.9,148.5 532.0,148.2 532.1,148.2 532.1,148.5 532.2,148.3 532.3,148.0 532.4,147.8 532.5,148.2 532.6,148.1 532.7,147.8 532.8,148.2 532.9,148.1 533.0,148.0 533.1,147.5 533.2,147.5 533.3,147.2 533.4,146.9 533.5,146.5 533.5,146.4 533.6,146.0 533.7,145.9 533.8,145.8 533.9,145.8 534.0,146.1 534.0,146.3 534.1,146.5 534.2,146.4 534.3,146.5 534.4,146.4 534.5,146.4 534.5,146.6 534.6,147.2 534.7,147.7 534.8,147.7 534.9,147.6 535.0,147.5 535.0,147.7 535.1,147.8 535.2,147.9 535.3,147.6 535.4,147.6 535.5,147.8 535.5,148.2 535.6,148.2 535.7,147.9 535.8,147.8 535.9,148.0 536.0,148.1 536.1,147.7 536.2,147.7 536.3,147.8 536.4,148.2 536.5,148.0 536.6,148.0 536.7,148.1 536.8,148.2 536.9,148.1 536.9,148.2 537.0,148.4 537.1,148.4 537.2,148.2 537.3,147.9 537.4,147.7 537.4,147.5 537.5,147.2 537.6,147.3 537.7,147.1 537.8,147.3 537.8,147.1 537.9,147.2 538.0,147.1 538.1,147.1 538.2,147.3 538.3,147.3 538.4,147.2 538.5,147.7 538.6,148.0 538.7,148.0 538.8,147.8 538.8,147.6 538.9,147.9 539.0,148.0 539.1,148.5 539.2,148.3 539.3,148.4 539.3,148.2 539.4,148.4 539.5,148.2 539.6,148.1 539.7,148.2 539.7,148.4 539.8,148.2 539.9,148.4 540.0,148.2 540.1,148.7 540.2,148.5 540.2,148.8 540.3,148.7 540.4,148.8 540.5,148.6 540.6,148.4 540.7,148.3 540.7,148.4 540.8,148.9 540.9,148.5 541.0,148.3 541.1,148.2 541.2,148.3 541.3,148.4 541.4,148.8 541.5,148.8 541.6,148.6 541.7,148.9 541.8,148.7 541.9,148.6 542.0,148.3 542.1,148.2"/>
<rect x="343.0" y="5.1" width="199.29999999999995" height="159.4" fill="none" stroke="#333" stroke-width="1.3"/>
<line x1="348.6" y1="164.5" x2="348.6" y2="167.5" stroke="#222" stroke-width="0.9"/>
<text x="348.6" y="175.5" text-anchor="middle" class="tk">10</text>
<line x1="376.3" y1="164.5" x2="376.3" y2="167.5" stroke="#222" stroke-width="0.9"/>
<text x="376.3" y="175.5" text-anchor="middle" class="tk">20</text>
<line x1="403.9" y1="164.5" x2="403.9" y2="167.5" stroke="#222" stroke-width="0.9"/>
<text x="403.9" y="175.5" text-anchor="middle" class="tk">30</text>
<line x1="431.6" y1="164.5" x2="431.6" y2="167.5" stroke="#222" stroke-width="0.9"/>
<text x="431.6" y="175.5" text-anchor="middle" class="tk">40</text>
<line x1="459.3" y1="164.5" x2="459.3" y2="167.5" stroke="#222" stroke-width="0.9"/>
<text x="459.3" y="175.5" text-anchor="middle" class="tk">50</text>
<line x1="487.0" y1="164.5" x2="487.0" y2="167.5" stroke="#222" stroke-width="0.9"/>
<text x="487.0" y="175.5" text-anchor="middle" class="tk">60</text>
<line x1="514.6" y1="164.5" x2="514.6" y2="167.5" stroke="#222" stroke-width="0.9"/>
<text x="514.6" y="175.5" text-anchor="middle" class="tk">70</text>
<line x1="542.3" y1="164.5" x2="542.3" y2="167.5" stroke="#222" stroke-width="0.9"/>
<text x="542.3" y="175.5" text-anchor="middle" class="tk">80</text>
<line x1="362.4" y1="164.5" x2="362.4" y2="166.5" stroke="#222" stroke-width="0.9"/>
<line x1="390.1" y1="164.5" x2="390.1" y2="166.5" stroke="#222" stroke-width="0.9"/>
<line x1="417.8" y1="164.5" x2="417.8" y2="166.5" stroke="#222" stroke-width="0.9"/>
<line x1="445.4" y1="164.5" x2="445.4" y2="166.5" stroke="#222" stroke-width="0.9"/>
<line x1="473.1" y1="164.5" x2="473.1" y2="166.5" stroke="#222" stroke-width="0.9"/>
<line x1="500.8" y1="164.5" x2="500.8" y2="166.5" stroke="#222" stroke-width="0.9"/>
<line x1="528.5" y1="164.5" x2="528.5" y2="166.5" stroke="#222" stroke-width="0.9"/>
<line x1="340.0" y1="152.6" x2="343.0" y2="152.6" stroke="#222" stroke-width="0.9"/>
<text x="337.6" y="155.0" text-anchor="end" class="tk">0</text>
<line x1="340.0" y1="128.0" x2="343.0" y2="128.0" stroke="#222" stroke-width="0.9"/>
<text x="337.6" y="130.4" text-anchor="end" class="tk">2,000</text>
<line x1="340.0" y1="103.4" x2="343.0" y2="103.4" stroke="#222" stroke-width="0.9"/>
<text x="337.6" y="105.8" text-anchor="end" class="tk">4,000</text>
<line x1="340.0" y1="78.9" x2="343.0" y2="78.9" stroke="#222" stroke-width="0.9"/>
<text x="337.6" y="81.3" text-anchor="end" class="tk">6,000</text>
<line x1="340.0" y1="54.3" x2="343.0" y2="54.3" stroke="#222" stroke-width="0.9"/>
<text x="337.6" y="56.7" text-anchor="end" class="tk">8,000</text>
<line x1="340.0" y1="29.7" x2="343.0" y2="29.7" stroke="#222" stroke-width="0.9"/>
<text x="337.6" y="32.1" text-anchor="end" class="tk">10,000</text>
<line x1="340.0" y1="5.1" x2="343.0" y2="5.1" stroke="#222" stroke-width="0.9"/>
<text x="337.6" y="7.5" text-anchor="end" class="tk">12,000</text>
<line x1="341.0" y1="140.3" x2="343.0" y2="140.3" stroke="#222" stroke-width="0.9"/>
<line x1="341.0" y1="115.7" x2="343.0" y2="115.7" stroke="#222" stroke-width="0.9"/>
<line x1="341.0" y1="91.1" x2="343.0" y2="91.1" stroke="#222" stroke-width="0.9"/>
<line x1="341.0" y1="66.6" x2="343.0" y2="66.6" stroke="#222" stroke-width="0.9"/>
<line x1="341.0" y1="42.0" x2="343.0" y2="42.0" stroke="#222" stroke-width="0.9"/>
<line x1="341.0" y1="17.4" x2="343.0" y2="17.4" stroke="#222" stroke-width="0.9"/>
<text x="442.5" y="189.5" text-anchor="middle" class="at">2θ/degree</text>
<text transform="translate(308.5 80.3) rotate(-90)" text-anchor="middle" class="at">Intensity/(a.u.)</text>
<text x="435.4" y="213.6" text-anchor="middle" class="pl">(b)</text>
<path d="M378.7 24.6L383.3 24.6L381.0 20.4Z" fill="#fff" stroke="#444" stroke-width="0.75"/>
<circle cx="366.2" cy="108.4" r="1.75" fill="#fff" stroke="#444" stroke-width="0.75"/>
<path d="M378.7 128.3L380.9 130.6L378.7 132.8L376.4 130.6Z" fill="#000"/>
<circle cx="391.8" cy="91.3" r="1.75" fill="#fff" stroke="#444" stroke-width="0.75"/>
<circle cx="394.1" cy="71.7" r="1.75" fill="#fff" stroke="#444" stroke-width="0.75"/>
<path d="M395.5 103.8L397.8 106.1L395.5 108.3L393.2 106.1Z" fill="#000"/>
<path d="M397.0 142.3L401.6 142.3L399.3 138.1Z" fill="#fff" stroke="#444" stroke-width="0.75"/>
<circle cx="407.0" cy="123.8" r="1.75" fill="#fff" stroke="#444" stroke-width="0.75"/>
<circle cx="412.7" cy="118.9" r="1.75" fill="#fff" stroke="#444" stroke-width="0.75"/>
<circle cx="418.7" cy="106.1" r="1.75" fill="#fff" stroke="#444" stroke-width="0.75"/>
<path d="M418.6 130.6L423.2 130.6L420.9 126.4Z" fill="#fff" stroke="#444" stroke-width="0.75"/>
<circle cx="423.6" cy="134.9" r="1.75" fill="#fff" stroke="#444" stroke-width="0.75"/>
<circle cx="430.0" cy="132.5" r="1.75" fill="#fff" stroke="#444" stroke-width="0.75"/>
<circle cx="434.4" cy="101.4" r="1.75" fill="#fff" stroke="#444" stroke-width="0.75"/>
<circle cx="438.7" cy="131.4" r="1.75" fill="#fff" stroke="#444" stroke-width="0.75"/>
<circle cx="454.6" cy="140.7" r="1.75" fill="#fff" stroke="#444" stroke-width="0.75"/>
<path d="M459.7 140.8L461.9 143.0L459.7 145.2L457.4 143.0Z" fill="#000"/>
<circle cx="470.7" cy="138.2" r="1.75" fill="#fff" stroke="#444" stroke-width="0.75"/>
<circle cx="480.0" cy="135.0" r="1.75" fill="#fff" stroke="#444" stroke-width="0.75"/>
<path d="M486.6 140.3L488.9 142.6L486.6 144.8L484.4 142.6Z" fill="#000"/>
<circle cx="489.4" cy="123.6" r="1.75" fill="#fff" stroke="#444" stroke-width="0.75"/>
<circle cx="500.0" cy="132.7" r="1.75" fill="#fff" stroke="#444" stroke-width="0.75"/>
<circle cx="516.1" cy="139.8" r="1.75" fill="#fff" stroke="#444" stroke-width="0.75"/>
<circle cx="526.2" cy="140.7" r="1.75" fill="#fff" stroke="#444" stroke-width="0.75"/>
<path d="M445.8 11.3L448.1 13.6L445.8 15.8L443.6 13.6Z" fill="#000"/>
<text x="448.6" y="15.1" class="lg">Quartz (SiO<tspan font-size="3.8" dy="1.3">2</tspan><tspan dy="-1.3">, 19.1% )</tspan></text>
<circle cx="445.3" cy="23.0" r="1.55" fill="#fff" stroke="#444" stroke-width="0.75"/>
<text x="447.7" y="25.0" class="lg">Sillimanite (Al<tspan font-size="3.8" dy="1.3">2</tspan><tspan dy="-1.3">SiO</tspan><tspan font-size="3.8" dy="1.3">5</tspan><tspan dy="-1.3">, 54.3% )</tspan></text>
<path d="M443.4 34.6L448.6 34.6L446.0 30.4Z" fill="#fff" stroke="#333" stroke-width="0.7"/>
<text x="448.6" y="35.0" class="lg">Cristobalite (SiO<tspan font-size="3.8" dy="1.3">2</tspan><tspan dy="-1.3">, 17.7%)</tspan></text>
<text x="443" y="44.3" class="lg">Amorphous materials (8.9%)</text>
<polyline class="cv" points="191.2,383.8 191.3,385.0 191.4,384.3 191.5,382.6 191.5,381.2 191.6,381.6 191.7,383.5 191.8,383.7 191.9,383.0 192.0,383.8 192.1,383.3 192.1,384.3 192.2,383.1 192.3,382.8 192.4,383.3 192.5,381.8 192.6,382.0 192.7,381.4 192.7,382.8 192.8,383.9 192.9,383.6 193.0,383.5 193.1,384.4 193.2,384.4 193.3,384.6 193.3,382.4 193.4,382.1 193.5,382.6 193.6,383.7 193.7,384.2 193.8,383.3 193.9,383.4 193.9,382.3 194.0,382.6 194.1,381.9 194.2,382.5 194.3,382.8 194.4,382.6 194.5,383.7 194.6,384.7 194.7,386.0 194.8,384.9 194.9,385.0 195.0,384.7 195.0,385.5 195.1,386.5 195.2,385.8 195.3,385.2 195.4,383.6 195.5,381.4 195.6,380.3 195.7,383.1 195.8,383.7 195.9,384.4 196.0,384.9 196.1,385.0 196.2,385.2 196.2,385.5 196.3,386.1 196.4,384.5 196.5,384.3 196.6,383.9 196.7,384.3 196.8,383.4 196.8,383.2 196.9,384.2 197.0,384.6 197.1,385.8 197.2,385.5 197.3,384.4 197.4,383.5 197.4,383.7 197.5,384.0 197.6,386.0 197.7,385.3 197.8,385.2 197.9,384.0 198.0,384.7 198.0,385.1 198.1,384.1 198.2,383.9 198.3,384.5 198.4,385.2 198.5,384.7 198.6,384.5 198.7,385.2 198.8,382.9 198.9,381.7 199.0,380.7 199.1,382.6 199.2,383.4 199.2,384.5 199.3,385.1 199.4,384.9 199.5,384.3 199.6,385.0 199.7,384.7 199.7,384.9 199.8,384.8 199.9,385.4 200.0,383.8 200.1,383.0 200.2,382.5 200.3,383.8 200.3,384.2 200.4,384.8 200.5,384.6 200.6,384.5 200.7,384.5 200.8,384.7 200.9,384.3 200.9,384.2 201.0,383.9 201.1,383.3 201.2,383.2 201.3,382.7 201.4,382.2 201.5,383.0 201.5,383.5 201.6,384.3 201.7,383.3 201.8,383.5 201.9,383.5 202.0,383.6 202.1,383.0 202.1,383.6 202.2,383.1 202.3,384.3 202.4,382.4 202.5,382.1 202.6,382.1 202.7,383.3 202.7,383.5 202.8,383.1 202.9,382.5 203.0,383.0 203.1,381.2 203.2,381.6 203.3,381.1 203.3,382.9 203.4,383.8 203.5,383.6 203.6,384.3 203.7,383.3 203.8,382.5 203.9,379.8 203.9,381.2 204.0,382.5 204.1,383.7 204.2,382.1 204.3,381.4 204.4,382.8 204.5,383.2 204.5,385.1 204.6,384.0 204.7,382.5 204.8,381.9 204.9,381.7 205.0,383.1 205.1,383.6 205.2,384.6 205.3,383.5 205.4,383.1 205.5,382.7 205.6,382.3 205.6,383.6 205.7,383.9 205.8,384.3 205.9,383.8 206.0,383.6 206.1,383.3 206.2,383.5 206.2,382.9 206.3,383.5 206.4,382.3 206.5,382.5 206.6,382.3 206.7,382.4 206.8,382.0 206.8,381.4 206.9,382.4 207.0,382.1 207.1,382.7 207.2,383.3 207.3,383.9 207.4,382.5 207.4,381.6 207.5,382.0 207.6,382.9 207.7,383.5 207.8,383.2 207.9,383.6 208.0,382.6 208.0,381.8 208.1,381.3 208.2,381.5 208.3,382.1 208.4,382.5 208.5,382.1 208.6,381.7 208.6,381.6 208.7,380.5 208.8,379.7 208.9,378.6 209.0,379.1 209.1,378.7 209.2,378.0 209.2,375.9 209.3,374.2 209.4,371.5 209.5,367.0 209.6,361.9 209.7,355.8 209.8,352.8 209.8,347.9 209.9,345.2 210.0,342.9 210.1,344.2 210.2,347.6 210.3,353.1 210.4,358.6 210.4,364.3 210.5,368.7 210.6,371.7 210.7,375.4 210.8,377.3 210.9,380.2 211.0,379.5 211.0,380.3 211.1,380.3 211.2,380.8 211.3,382.0 211.4,382.2 211.5,382.5 211.5,381.1 211.6,381.4 211.7,382.3 211.8,382.6 211.9,382.8 212.0,383.1 212.1,381.9 212.1,380.7 212.2,379.1 212.3,380.0 212.4,381.3 212.5,382.4 212.6,381.6 212.7,380.4 212.7,380.7 212.8,381.0 212.9,381.1 213.0,380.6 213.1,379.7 213.2,380.3 213.3,380.3 213.3,381.9 213.4,380.7 213.5,379.9 213.6,379.1 213.7,379.9 213.8,380.5 213.9,380.9 213.9,381.9 214.0,382.7 214.1,382.1 214.2,380.4 214.3,380.7 214.4,380.9 214.5,382.2 214.5,382.1 214.6,381.9 214.7,380.7 214.8,379.7 214.9,379.4 215.0,378.9 215.1,378.5 215.1,379.6 215.2,379.9 215.3,380.0 215.4,379.1 215.5,378.4 215.6,379.5 215.7,378.2 215.7,378.6 215.8,378.0 215.9,378.6 216.0,379.3 216.1,379.8 216.2,380.1 216.3,379.8 216.3,378.1 216.4,379.0 216.5,378.9 216.6,379.7 216.7,380.2 216.8,380.4 216.8,381.1 216.9,380.6 217.0,379.4 217.1,378.6 217.2,378.5 217.3,378.3 217.4,378.9 217.4,378.6 217.5,379.8 217.6,378.2 217.7,378.2 217.8,378.1 217.9,378.4 218.0,378.4 218.0,376.7 218.1,377.8 218.2,376.9 218.3,376.8 218.4,375.1 218.5,375.2 218.6,376.8 218.6,376.7 218.7,377.4 218.8,376.2 218.9,378.2 219.0,378.2 219.1,380.0 219.2,377.7 219.3,375.6 219.4,376.5 219.5,376.4 219.6,375.8 219.7,374.5 219.8,373.1 219.9,373.2 220.0,373.2 220.1,373.0 220.2,373.4 220.3,374.3 220.4,374.2 220.4,373.6 220.5,373.1 220.6,373.6 220.7,373.3 220.8,373.7 220.9,374.1 221.0,374.8 221.0,373.8 221.1,374.2 221.2,374.4 221.3,373.6 221.4,371.5 221.5,370.2 221.6,368.9 221.6,368.1 221.7,366.0 221.8,364.8 221.9,363.2 222.0,361.2 222.1,360.5 222.2,359.0 222.2,361.6 222.3,363.3 222.4,366.0 222.5,365.4 222.6,365.7 222.7,366.3 222.7,367.2 222.8,367.4 222.9,366.0 223.0,365.4 223.1,364.1 223.2,363.3 223.3,361.4 223.3,360.9 223.4,360.9 223.5,358.7 223.6,356.7 223.7,353.2 223.8,348.8 223.9,340.6 223.9,331.1 224.0,321.5 224.1,309.4 224.2,295.1 224.3,280.8 224.4,267.0 224.5,258.7 224.5,255.8 224.6,260.8 224.7,270.3 224.8,282.5 224.9,296.6 225.0,309.7 225.1,320.9 225.1,330.7 225.2,339.0 225.3,347.0 225.4,353.3 225.5,357.4 225.6,358.8 225.7,359.3 225.7,360.5 225.8,363.1 225.9,364.7 226.0,365.6 226.1,364.8 226.2,365.7 226.3,366.4 226.3,367.3 226.4,367.2 226.5,368.5 226.6,368.7 226.7,370.1 226.8,370.0 226.9,370.4 226.9,370.1 227.0,369.4 227.1,369.0 227.2,368.4 227.3,368.1 227.4,369.1 227.5,369.5 227.5,370.6 227.6,371.0 227.7,369.0 227.8,369.0 227.9,367.4 228.0,369.7 228.1,369.0 228.1,370.4 228.2,371.3 228.3,370.8 228.4,370.9 228.5,370.0 228.6,369.9 228.6,370.3 228.7,370.4 228.8,371.3 228.9,370.5 229.0,372.6 229.1,372.7 229.2,372.0 229.2,369.3 229.3,369.3 229.4,370.3 229.5,370.9 229.6,370.5 229.7,371.1 229.8,370.9 229.8,370.7 229.9,369.8 230.0,369.9 230.1,371.4 230.2,372.3 230.3,372.3 230.4,371.8 230.4,371.6 230.5,373.2 230.6,372.8 230.7,373.0 230.8,372.1 230.9,371.9 231.0,371.7 231.0,371.4 231.1,371.7 231.2,372.0 231.3,372.6 231.4,373.6 231.5,373.2 231.6,372.6 231.6,373.4 231.7,372.8 231.8,372.9 231.9,371.9 232.0,372.7 232.1,373.0 232.2,372.6 232.2,373.0 232.3,373.4 232.4,373.1 232.5,372.8 232.6,371.8 232.7,371.7 232.8,371.5 232.8,370.7 232.9,371.4 233.0,372.5 233.1,374.3 233.2,374.6 233.3,372.8 233.4,372.6 233.4,371.2 233.5,371.8 233.6,371.9 233.7,371.6 233.8,372.2 233.9,371.1 233.9,371.6 234.0,370.4 234.1,370.4 234.2,370.1 234.3,371.3 234.4,371.8 234.5,371.1 234.5,370.0 234.6,368.9 234.7,368.9 234.8,368.4 234.9,368.6 235.0,369.2 235.1,368.7 235.1,368.2 235.2,368.5 235.3,368.7 235.4,368.3 235.5,368.9 235.6,370.4 235.7,369.8 235.7,367.7 235.8,366.8 235.9,366.9 236.0,367.4 236.1,366.6 236.2,367.5 236.3,365.7 236.3,364.2 236.4,362.6 236.5,364.6 236.6,365.4 236.7,364.5 236.8,363.5 236.9,363.2 236.9,363.1 237.0,361.1 237.1,359.0 237.2,357.3 237.3,353.8 237.4,348.8 237.5,341.1 237.5,332.0 237.6,320.2 237.7,307.8 237.8,294.2 237.9,281.2 238.0,270.8 238.1,265.6 238.1,267.5 238.2,273.4 238.3,285.4 238.4,298.0 238.5,311.8 238.6,322.8 238.7,334.1 238.7,343.2 238.8,349.4 238.9,352.3 239.0,355.0 239.1,357.5 239.2,361.0 239.3,361.3 239.3,361.2 239.4,360.7 239.5,362.2 239.6,363.9 239.7,365.0 239.8,366.7 239.8,366.6 239.9,366.0 240.0,363.6 240.1,364.1 240.2,365.2 240.3,366.3 240.4,367.0 240.4,366.6 240.5,367.8 240.6,367.3 240.7,366.6 240.8,365.2 240.9,364.0 241.0,363.6 241.0,364.2 241.1,365.8 241.2,368.3 241.3,368.1 241.4,367.4 241.5,365.4 241.6,366.1 241.6,366.5 241.7,366.9 241.8,366.7 241.9,366.8 242.0,365.9 242.1,365.9 242.2,365.6 242.2,366.5 242.3,365.6 242.4,366.6 242.5,367.7 242.6,369.1 242.7,366.9 242.8,365.2 242.8,364.3 242.9,364.0 243.0,363.6 243.1,361.5 243.2,363.2 243.3,364.1 243.4,365.3 243.4,364.0 243.5,362.8 243.6,362.2 243.7,362.5 243.8,362.4 243.9,363.6 244.0,363.1 244.0,363.4 244.1,363.9 244.2,364.5 244.3,365.9 244.4,365.1 244.5,364.1 244.6,364.5 244.6,364.2 244.7,366.7 244.8,365.5 244.9,365.4 245.0,365.1 245.1,366.6 245.2,368.1 245.2,367.2 245.3,367.6 245.4,366.7 245.5,367.3 245.6,366.3 245.7,367.1 245.7,368.1 245.8,368.3 245.9,369.0 246.0,369.0 246.1,368.4 246.2,367.3 246.3,366.7 246.3,367.5 246.4,368.6 246.5,367.6 246.6,368.6 246.7,369.0 246.8,370.2 246.9,368.9 246.9,368.5 247.0,368.3 247.1,369.7 247.2,369.7 247.3,370.6 247.4,370.1 247.5,371.2 247.5,369.2 247.6,368.9 247.7,368.3 247.8,368.9 247.9,370.2 248.0,369.1 248.1,370.3 248.1,369.2 248.2,369.8 248.3,369.9 248.4,370.5 248.5,370.6 248.6,372.0 248.7,372.1 248.7,371.8 248.8,371.0 248.9,371.6 249.0,373.1 249.1,373.7 249.2,372.5 249.3,372.4 249.3,372.0 249.4,372.7 249.5,372.1 249.6,369.3 249.7,368.9 249.8,369.8 249.9,370.5 249.9,370.2 250.0,368.6 250.1,369.3 250.2,369.5 250.3,366.4 250.4,363.8 250.5,360.4 250.5,357.6 250.6,354.2 250.7,351.8 250.8,351.2 250.9,350.4 251.0,347.7 251.0,348.5 251.1,351.2 251.2,356.0 251.3,359.5 251.4,364.5 251.5,367.3 251.6,368.9 251.6,368.8 251.7,369.9 251.8,371.2 251.9,371.6 252.0,372.7 252.1,373.3 252.2,372.8 252.2,372.3 252.3,372.6 252.4,373.2 252.5,374.2 252.6,374.5 252.7,374.2 252.8,373.8 252.8,374.7 252.9,376.5 253.0,376.3 253.1,375.6 253.2,374.2 253.3,373.4 253.4,373.2 253.4,373.9 253.5,375.3 253.6,374.9 253.7,375.1 253.8,374.4 253.9,374.8 254.0,375.2 254.0,375.6 254.1,375.8 254.2,374.1 254.3,373.7 254.4,374.1 254.5,376.5 254.6,377.2 254.6,376.2 254.7,374.2 254.8,374.3 254.9,375.0 255.0,374.8 255.1,375.0 255.2,374.8 255.2,376.1 255.3,375.0 255.4,375.1 255.5,373.8 255.6,375.5 255.7,375.2 255.8,375.5 255.8,375.3 255.9,376.0 256.0,376.3 256.1,376.8 256.2,375.2 256.3,375.6 256.4,374.5 256.4,373.0 256.5,372.4 256.6,370.1 256.7,369.6 256.8,365.6 256.9,362.6 256.9,358.2 257.0,354.4 257.1,350.3 257.2,347.5 257.3,347.9 257.4,347.6 257.5,349.9 257.5,351.7 257.6,356.4 257.7,361.3 257.8,365.7 257.9,368.7 258.0,370.4 258.1,371.8 258.1,373.9 258.2,375.6 258.3,375.8 258.4,374.3 258.5,375.6 258.6,376.8 258.7,378.5 258.7,377.4 258.8,376.5 258.9,375.7 259.0,375.4 259.1,375.6 259.2,376.0 259.3,375.3 259.4,376.1 259.5,376.8 259.6,377.1 259.7,375.4 259.8,375.6 259.9,375.5 259.9,376.1 260.0,375.1 260.1,375.5 260.2,375.7 260.3,377.2 260.4,376.7 260.5,377.7 260.5,377.1 260.6,376.4 260.7,375.9 260.8,375.9 260.9,377.4 261.0,377.1 261.1,377.1 261.1,377.2 261.2,378.3 261.3,379.1 261.4,379.2 261.5,378.7 261.6,378.7 261.7,378.5 261.8,377.9 261.9,377.4 262.0,378.7 262.1,378.6 262.2,378.2 262.3,376.3 262.3,376.1 262.4,376.2 262.5,375.4 262.6,373.6 262.7,372.8 262.8,371.1 262.8,370.6 262.9,367.5 263.0,365.0 263.1,360.4 263.2,353.8 263.3,345.2 263.4,335.9 263.4,328.7 263.5,325.1 263.6,323.9 263.7,327.4 263.8,333.1 263.9,342.1 264.0,349.3 264.0,356.4 264.1,361.4 264.2,365.8 264.3,367.7 264.4,370.3 264.5,372.5 264.6,373.9 264.6,373.4 264.7,370.4 264.8,369.4 264.9,366.4 265.0,365.1 265.1,361.7 265.2,359.6 265.2,358.5 265.3,358.4 265.4,360.1 265.5,361.7 265.6,364.2 265.7,366.5 265.8,369.1 265.8,371.2 265.9,373.3 266.0,374.0 266.1,374.4 266.2,374.6 266.3,375.3 266.4,376.6 266.4,378.1 266.5,377.4 266.6,377.6 266.7,375.4 266.8,375.9 266.9,375.5 267.0,375.6 267.0,375.1 267.1,375.5 267.2,377.1 267.3,378.3 267.4,377.7 267.5,379.1 267.6,379.1 267.6,379.0 267.7,378.7 267.8,379.2 267.9,379.5 268.0,379.0 268.1,378.6 268.1,379.0 268.2,377.9 268.3,376.5 268.4,375.8 268.5,374.6 268.6,373.3 268.7,370.7 268.7,369.8 268.8,368.9 268.9,368.5 269.0,368.0 269.1,368.7 269.2,368.6 269.3,369.9 269.3,372.0 269.4,375.1 269.5,377.1 269.6,377.9 269.7,378.7 269.8,379.4 269.9,379.4 269.9,380.4 270.0,380.7 270.1,381.6 270.2,381.7 270.3,381.2 270.4,380.2 270.5,379.7 270.5,379.4 270.6,380.3 270.7,379.7 270.8,380.4 270.9,380.5 271.0,380.0 271.1,379.4 271.1,379.6 271.2,379.6 271.3,379.0 271.4,378.3 271.5,378.4 271.6,378.9 271.7,379.8 271.7,381.5 271.8,382.1 271.9,382.1 272.0,381.6 272.1,381.7 272.2,380.8 272.3,380.5 272.3,379.9 272.4,380.0 272.5,379.3 272.6,378.7 272.7,378.7 272.8,378.2 272.9,378.8 272.9,379.0 273.0,379.9 273.1,379.8 273.2,380.3 273.3,379.8 273.4,379.5 273.5,377.9 273.5,376.8 273.6,375.6 273.7,377.6 273.8,377.8 273.9,379.3 274.0,379.1 274.0,379.7 274.1,380.1 274.2,379.7 274.3,379.6 274.4,378.9 274.5,376.4 274.6,373.3 274.6,370.0 274.7,367.1 274.8,364.8 274.9,362.3 275.0,363.6 275.1,364.6 275.2,366.8 275.3,369.4 275.4,371.4 275.5,373.6 275.6,374.3 275.7,374.9 275.8,375.6 275.8,377.3 275.9,380.1 276.0,381.6 276.1,382.8 276.2,381.9 276.3,381.2 276.4,379.1 276.4,378.9 276.5,377.5 276.6,378.2 276.7,379.4 276.8,381.0 276.9,382.0 277.0,380.6 277.0,379.5 277.1,378.4 277.2,378.4 277.3,380.1 277.4,381.7 277.5,381.4 277.6,380.4 277.6,378.9 277.7,379.1 277.8,378.4 277.9,378.5 278.0,378.8 278.1,379.8 278.2,378.7 278.2,378.0 278.3,376.1 278.4,376.6 278.5,374.6 278.6,373.0 278.7,368.2 278.8,362.7 278.8,354.3 278.9,343.8 279.0,334.7 279.1,325.4 279.2,319.2 279.3,316.7 279.4,319.3 279.4,327.0 279.5,335.8 279.6,347.3 279.7,357.0 279.8,365.1 279.9,369.9 279.9,373.7 280.0,376.8 280.1,377.1 280.2,377.7 280.3,377.2 280.4,378.7 280.5,377.7 280.5,378.7 280.6,378.5 280.7,379.8 280.8,379.0 280.9,378.6 281.0,378.5 281.1,377.7 281.1,378.2 281.2,378.4 281.3,379.6 281.4,380.4 281.5,380.5 281.6,382.0 281.7,382.3 281.7,381.6 281.8,379.7 281.9,379.0 282.0,379.7 282.1,379.8 282.2,379.6 282.3,380.8 282.3,381.3 282.4,381.6 282.5,380.3 282.6,380.1 282.7,381.3 282.8,381.7 282.9,382.5 282.9,379.4 283.0,379.2 283.1,378.8 283.2,381.8 283.3,380.9 283.4,378.1 283.5,375.8 283.5,373.5 283.6,371.1 283.7,367.6 283.8,365.8 283.9,365.0 284.0,363.6 284.1,360.8 284.1,361.5 284.2,361.3 284.3,364.0 284.4,364.1 284.5,368.7 284.6,371.8 284.7,375.9 284.7,377.1 284.8,378.3 284.9,379.0 285.0,378.5 285.1,379.7 285.2,380.6 285.2,381.8 285.3,381.3 285.4,381.0 285.5,382.4 285.6,382.7 285.7,382.6 285.8,381.3 285.8,380.0 285.9,379.7 286.0,380.1 286.1,380.9 286.2,381.4 286.3,381.9 286.4,382.4 286.4,382.6 286.5,382.5 286.6,382.4 286.7,382.2 286.8,382.1 286.9,380.8 287.0,381.7 287.0,380.6 287.1,382.3 287.2,381.5 287.3,383.1 287.4,382.6 287.5,381.9 287.6,381.9 287.6,382.1 287.7,382.8 287.8,382.1 287.9,382.7 288.0,383.2 288.1,383.3 288.2,381.6 288.2,380.8 288.3,380.7 288.4,382.9 288.5,383.5 288.6,383.3 288.7,382.9 288.8,382.6 288.8,382.7 288.9,382.0 289.0,381.0 289.1,381.7 289.2,381.9 289.3,382.7 289.4,381.3 289.4,381.1 289.5,382.3 289.6,382.6 289.7,381.8 289.8,381.1 289.9,380.5 290.0,379.7 290.0,379.1 290.1,379.7 290.2,381.0 290.3,380.9 290.4,381.6 290.5,381.6 290.6,381.6 290.6,381.1 290.7,381.6 290.8,382.7 290.9,383.6 291.0,383.6 291.1,380.7 291.1,379.4 291.2,378.7 291.3,381.0 291.4,380.5 291.5,381.6 291.6,381.5 291.7,382.0 291.7,381.0 291.8,380.4 291.9,380.1 292.0,380.1 292.1,379.8 292.2,379.3 292.3,378.4 292.3,378.5 292.4,378.8 292.5,380.1 292.6,379.6 292.7,381.7 292.8,381.6 292.9,381.9 292.9,381.0 293.0,381.4 293.1,382.1 293.2,381.3 293.3,380.7 293.4,382.3 293.5,382.1 293.5,382.5 293.6,381.2 293.7,382.2 293.8,381.5 293.9,381.3 294.0,382.1 294.1,382.8 294.1,382.3 294.2,382.7 294.3,381.4 294.4,382.5 294.5,381.6 294.6,383.3 294.7,383.1 294.7,383.6 294.8,382.8 294.9,383.2 295.0,382.8 295.1,384.2 295.2,383.1 295.3,383.7 295.3,382.5 295.4,383.1 295.5,381.9 295.6,381.9 295.7,380.8 295.8,380.3 295.9,380.4 296.0,382.2 296.1,381.6 296.2,382.8 296.3,381.9 296.4,382.3 296.5,381.9 296.5,381.6 296.6,381.3 296.7,382.1 296.8,383.1 296.9,384.0 297.0,383.6 297.0,382.7 297.1,380.7 297.2,380.8 297.3,381.5 297.4,382.3 297.5,382.4 297.6,382.7 297.6,383.0 297.7,383.1 297.8,382.4 297.9,381.1 298.0,380.0 298.1,379.5 298.2,380.9 298.2,380.6 298.3,380.5 298.4,379.4 298.5,379.8 298.6,379.9 298.7,381.1 298.8,381.4 298.8,381.2 298.9,380.5 299.0,379.7 299.1,379.3 299.2,379.8 299.3,377.7 299.4,377.1 299.4,375.8 299.5,377.8 299.6,376.7 299.7,376.3 299.8,375.8 299.9,375.9 300.0,374.2 300.0,373.2 300.1,372.8 300.2,374.6 300.3,374.6 300.4,376.9 300.5,377.0 300.6,377.4 300.6,376.4 300.7,376.0 300.8,377.2 300.9,379.0 301.0,380.0 301.1,380.7 301.2,379.4 301.2,380.0 301.3,381.2 301.4,381.1 301.5,381.9 301.6,381.4 301.7,381.2 301.8,379.6 301.8,378.2 301.9,380.2 302.0,381.0 302.1,381.6 302.2,381.5 302.3,381.9 302.3,382.2 302.4,381.6 302.5,382.3 302.6,381.6 302.7,382.9 302.8,381.9 302.9,381.9 302.9,381.2 303.0,381.6 303.1,380.7 303.2,380.3 303.3,378.9 303.4,379.4 303.5,379.5 303.6,380.0 303.7,378.9 303.8,380.5 303.9,380.0 304.0,379.3 304.1,377.2 304.1,376.7 304.2,377.8 304.3,378.8 304.4,380.3 304.5,380.7 304.6,381.1 304.7,381.0 304.7,381.1 304.8,381.5 304.9,382.0 305.0,382.8 305.1,382.4 305.2,380.8 305.3,379.8 305.3,380.5 305.4,380.0 305.5,380.3 305.6,380.4 305.7,381.7 305.8,381.3 305.9,382.2 305.9,383.5 306.0,384.1 306.1,383.8 306.2,383.8 306.3,383.2 306.4,384.1 306.5,382.6 306.5,383.2 306.6,380.7 306.7,381.4 306.8,380.7 306.9,381.4 307.0,382.0 307.1,383.1 307.1,382.9 307.2,383.2 307.3,382.4 307.4,383.2 307.5,381.9 307.6,382.6 307.7,381.9 307.7,382.1 307.8,381.8 307.9,381.1 308.0,380.4 308.1,380.6 308.2,380.8 308.2,380.2 308.3,379.3 308.4,378.7 308.5,379.4 308.6,379.9 308.7,380.5 308.8,380.2 308.9,379.5 309.0,378.2 309.1,378.4 309.2,378.4 309.3,379.9 309.4,379.4 309.4,381.0 309.5,381.0 309.6,382.1 309.7,381.5 309.8,381.5 309.9,380.3 310.0,381.0 310.0,382.1 310.1,383.7 310.2,384.7 310.3,384.6 310.4,384.3 310.5,383.0 310.6,382.9 310.6,382.5 310.7,382.0 310.8,383.3 310.9,382.3 311.0,383.1 311.1,382.1 311.2,383.4 311.2,382.6 311.3,382.2 311.4,381.8 311.5,381.7 311.6,381.8 311.7,381.9 311.8,382.2 311.8,382.7 311.9,382.3 312.0,383.0 312.1,382.1 312.2,383.1 312.3,382.8 312.4,383.4 312.4,382.5 312.5,381.9 312.6,381.2 312.7,381.9 312.8,382.9 312.9,384.2 313.0,383.7 313.0,383.3 313.1,381.5 313.2,380.3 313.3,379.7 313.4,380.3 313.5,380.7 313.6,380.0 313.6,380.8 313.7,381.2 313.8,381.3 313.9,382.4 314.0,383.0 314.1,383.8 314.1,382.7 314.2,382.0 314.3,383.1 314.4,381.5 314.5,381.1 314.6,379.8 314.7,380.1 314.7,381.7 314.8,380.5 314.9,380.2 315.0,379.1 315.1,380.2 315.2,380.9 315.3,380.5 315.3,381.0 315.4,379.4 315.5,378.6 315.6,376.9 315.7,376.1 315.8,374.8 315.9,372.9 315.9,371.5 316.0,369.8 316.1,368.5 316.2,366.7 316.3,366.7 316.4,365.0 316.5,366.8 316.5,367.3 316.6,369.0 316.7,367.8 316.8,366.9 316.9,367.9 317.0,369.3 317.1,371.2 317.2,373.1 317.3,373.4 317.4,375.1 317.5,374.3 317.6,375.3 317.7,376.5 317.7,378.1 317.8,379.0 317.9,379.8 318.0,380.6 318.1,382.2 318.2,380.6 318.3,381.4 318.3,381.2 318.4,382.1 318.5,381.1 318.6,381.6 318.7,382.1 318.8,382.8 318.9,382.8 318.9,383.4 319.0,384.3 319.1,383.5 319.2,384.0 319.3,384.5 319.4,385.4 319.4,383.8 319.5,383.6 319.6,383.6 319.7,384.5 319.8,385.1 319.9,383.9 320.0,385.9 320.0,384.6 320.1,386.8 320.2,385.6 320.3,385.2 320.4,384.3 320.5,384.6 320.6,385.9 320.6,386.6 320.7,385.8 320.8,385.8 320.9,385.6 321.0,386.0 321.1,385.1 321.2,383.9 321.2,384.6 321.3,385.7 321.4,385.7 321.5,384.3 321.6,384.6 321.7,384.1 321.8,385.0 321.8,383.7 321.9,383.5 322.0,383.4 322.1,383.8 322.2,385.9 322.3,387.3 322.4,387.2 322.4,386.9 322.5,386.0 322.6,385.8 322.7,384.5 322.8,384.8 322.9,384.8 323.0,385.3 323.0,384.0 323.1,384.1 323.2,383.6 323.3,384.3 323.4,385.1 323.5,385.2 323.6,383.7 323.6,382.8 323.7,382.0 323.8,382.4 323.9,383.0 324.0,385.5 324.1,386.0 324.2,384.4 324.2,383.2 324.3,381.3 324.4,381.4 324.5,381.7 324.6,383.4 324.7,382.7 324.8,380.4 324.8,380.1 324.9,380.7 325.0,381.0 325.1,380.2 325.2,379.4 325.3,378.0 325.3,377.6 325.4,376.9 325.5,376.7 325.6,374.5 325.7,374.1 325.8,373.2 325.9,373.4 325.9,371.9 326.0,371.9 326.1,370.0 326.2,368.6 326.3,365.5 326.4,364.1 326.5,364.4 326.5,367.5 326.6,367.4 326.7,366.7 326.8,365.6 326.9,367.7 327.0,369.0 327.1,370.0 327.1,369.9 327.2,371.4 327.3,373.1 327.4,376.3 327.5,377.4 327.6,377.6 327.7,377.6 327.7,379.2 327.8,380.3 327.9,380.1 328.0,380.2 328.1,380.9 328.2,381.3 328.3,380.6 328.4,381.5 328.5,383.3 328.6,383.2 328.7,382.7 328.8,382.0 328.9,381.4 328.9,381.3 329.0,381.3 329.1,381.8 329.2,383.2 329.3,382.9 329.4,383.2 329.5,382.2 329.5,384.0 329.6,384.3 329.7,384.5 329.8,384.1 329.9,384.0 330.0,384.0 330.1,384.5 330.1,385.0 330.2,386.4 330.3,386.2 330.4,386.3 330.5,385.3 330.6,383.8 330.7,383.8 330.7,383.7 330.8,384.9 330.9,384.5 331.0,384.0 331.1,382.9 331.2,383.4 331.2,384.7 331.3,385.2 331.4,385.0 331.5,385.1 331.6,384.7 331.7,384.2 331.8,382.6 331.8,383.9 331.9,384.3 332.0,384.7 332.1,382.9 332.2,382.6 332.3,383.5 332.4,384.4 332.4,384.2 332.5,384.0 332.6,383.3 332.7,383.6 332.8,383.6 332.9,383.9 333.0,383.2 333.0,383.0 333.1,383.4 333.2,383.7 333.3,383.7 333.4,383.8 333.5,383.3 333.6,382.6 333.6,382.7 333.7,383.9 333.8,385.2 333.9,384.2 334.0,384.0 334.1,383.4 334.2,383.8 334.2,383.1 334.3,382.8 334.4,383.6 334.5,382.1 334.6,381.3 334.7,379.1 334.8,378.5 334.8,377.4 334.9,376.1 335.0,373.1 335.1,369.1 335.2,365.2 335.3,360.9 335.4,357.3 335.4,352.8 335.5,350.0 335.6,346.9 335.7,347.2 335.8,348.1 335.9,350.3 336.0,354.1 336.0,358.1 336.1,362.4 336.2,364.3 336.3,368.9 336.4,372.4 336.5,376.1 336.5,377.4 336.6,378.6 336.7,378.9 336.8,379.1 336.9,380.0 337.0,381.0 337.1,382.8 337.1,382.1 337.2,381.7 337.3,379.8 337.4,381.0 337.5,380.2 337.6,381.1 337.7,380.8 337.7,381.3 337.8,381.0 337.9,378.6 338.0,378.5 338.1,377.1 338.2,379.0 338.3,379.7 338.3,380.7 338.4,381.7 338.5,382.5 338.6,383.1 338.7,382.6 338.8,381.7 338.9,382.2 338.9,384.2 339.0,384.9 339.1,385.5 339.2,383.9 339.3,385.0 339.4,385.0 339.5,385.3 339.5,383.6 339.6,382.9 339.7,383.9 339.8,384.9 339.9,385.6 340.0,384.5 340.1,383.4 340.1,383.2 340.2,383.7 340.3,384.5 340.4,384.0 340.5,383.9 340.6,383.9 340.7,384.3 340.7,383.9 340.8,382.7 340.9,382.3 341.0,382.0 341.1,383.0 341.2,383.2 341.3,383.2 341.3,384.0 341.4,384.4 341.5,384.6 341.6,383.1 341.7,381.7 341.8,382.0 341.9,382.5 341.9,382.2 342.0,381.2 342.1,381.3 342.2,381.6 342.3,381.7 342.4,380.4 342.4,379.7 342.5,378.8 342.6,379.0 342.7,377.6 342.8,377.5 342.9,376.6 343.0,378.9 343.0,380.3 343.1,382.5 343.2,382.4 343.3,381.3 343.4,381.1 343.5,380.8 343.6,381.8 343.6,380.8 343.7,380.8 343.8,381.0 343.9,383.0 344.0,383.5 344.1,384.9 344.2,385.6 344.2,384.9 344.3,383.4 344.4,381.0 344.5,381.8 344.6,381.5 344.7,382.0 344.8,382.7 344.8,383.7 344.9,383.8 345.0,383.1 345.1,382.5 345.2,382.3 345.3,382.6 345.4,382.4 345.5,380.9 345.6,381.1 345.7,381.5 345.8,382.0 345.9,379.8 346.0,378.7 346.0,377.3 346.1,375.1 346.2,372.6 346.3,371.6 346.4,372.1 346.5,371.3 346.6,369.6 346.6,367.9 346.7,364.8 346.8,363.3 346.9,363.7 347.0,366.5 347.1,368.0 347.2,369.3 347.2,370.9 347.3,372.1 347.4,372.9 347.5,373.9 347.6,376.6 347.7,378.6 347.8,378.1 347.8,378.7 347.9,378.7 348.0,381.1 348.1,381.4 348.2,382.7 348.3,382.9 348.3,382.8 348.4,383.4 348.5,383.9 348.6,384.6 348.7,385.0 348.8,383.9 348.9,384.3 348.9,383.7 349.0,383.5 349.1,382.9 349.2,382.4 349.3,382.8 349.4,382.9 349.5,384.0 349.5,384.2 349.6,384.3 349.7,382.6 349.8,382.9 349.9,383.7 350.0,385.2 350.1,385.5 350.1,384.4 350.2,383.2 350.3,382.9 350.4,382.3 350.5,382.2 350.6,382.9 350.7,383.2 350.7,385.2 350.8,383.6 350.9,384.5 351.0,382.5 351.1,383.5 351.2,382.4 351.3,383.1 351.3,382.7 351.4,382.9 351.5,382.9 351.6,383.7 351.7,383.3 351.8,383.2 351.9,381.9 352.0,382.5 352.1,380.8 352.2,380.3 352.3,377.7 352.4,379.1 352.5,379.6 352.5,383.7 352.6,384.5 352.7,386.2 352.8,385.0 352.9,384.8 353.0,384.3 353.1,384.8 353.1,385.4 353.2,385.4 353.3,384.8 353.4,383.8 353.5,383.3 353.6,383.2 353.6,384.6 353.7,384.6 353.8,384.2 353.9,383.8 354.0,384.3 354.1,385.0 354.2,385.2 354.2,385.4 354.3,384.0 354.4,383.3 354.5,383.4 354.6,383.3 354.7,384.2 354.8,383.6 354.8,384.1 354.9,384.4 355.0,384.4 355.1,384.4 355.2,383.5 355.3,384.0 355.4,386.4 355.4,385.5 355.5,385.4 355.6,383.5 355.7,385.5 355.8,385.3 355.9,383.8 356.0,384.1 356.0,383.6 356.1,385.2 356.2,383.5 356.3,383.5 356.4,383.2 356.5,384.7 356.6,386.0 356.6,385.9 356.7,385.6 356.8,384.8 356.9,385.3 357.0,385.0 357.1,385.6 357.2,385.1 357.2,384.9 357.3,384.7 357.4,385.1 357.5,384.6 357.6,385.6 357.7,385.2 357.8,386.2 357.8,385.2 357.9,386.3 358.0,384.3 358.1,385.5 358.2,384.6 358.3,385.2 358.4,383.9 358.4,385.5 358.5,386.6 358.6,385.7 358.7,383.9 358.8,384.4 358.9,384.3 359.0,384.4 359.0,383.3 359.1,385.7 359.2,385.6 359.3,386.6 359.4,384.7 359.5,384.3 359.5,384.1 359.6,384.9 359.7,384.3 359.8,384.0 359.9,384.0 360.0,384.7 360.1,384.4 360.1,384.1 360.2,384.2 360.3,383.6 360.4,383.0 360.5,383.1 360.6,382.5 360.7,382.9 360.7,382.1 360.8,383.0 360.9,382.9 361.0,383.1 361.1,383.6 361.2,384.9 361.3,386.4 361.3,384.9 361.4,384.4 361.5,383.6 361.6,384.3 361.7,383.0 361.8,382.8 361.9,383.6 361.9,384.3 362.0,383.9 362.1,382.4 362.2,381.7 362.3,382.2 362.4,383.8 362.5,383.2 362.5,382.7 362.6,381.0 362.7,381.1 362.8,381.1 362.9,381.5 363.0,380.9 363.1,379.7 363.1,379.9 363.2,380.7 363.3,381.5 363.4,380.1 363.5,379.3 363.6,378.9 363.7,378.6 363.7,377.8 363.8,377.1 363.9,377.7 364.0,377.5 364.1,377.8 364.2,377.4 364.3,377.2 364.3,376.3 364.4,375.6 364.5,376.4 364.6,376.7 364.7,375.8 364.8,374.5 364.9,374.8 364.9,375.8 365.0,377.2 365.1,376.9 365.2,378.1 365.3,377.3 365.4,378.1 365.4,376.9 365.5,378.6 365.6,379.1 365.7,379.1 365.8,379.3 365.9,378.6 366.0,379.7 366.0,379.8 366.1,379.7 366.2,379.6 366.3,380.3 366.4,381.9 366.5,382.4 366.6,381.3 366.6,382.5 366.7,383.9 366.8,385.3 366.9,383.3 367.0,382.4 367.1,382.5 367.2,382.7 367.2,384.3 367.3,384.4 367.4,385.5 367.5,383.8 367.6,383.3 367.7,382.6 367.8,383.6 367.8,384.1 367.9,384.5 368.0,384.6 368.1,385.0 368.2,386.2 368.3,385.9 368.4,385.2 368.4,384.2 368.5,385.4 368.6,385.7 368.7,385.8 368.8,384.6 368.9,385.3 369.0,385.5 369.0,385.2 369.1,384.8 369.2,385.3 369.3,386.6 369.4,387.3 369.5,387.3 369.6,386.4 369.6,385.6 369.7,385.6 369.8,385.1 369.9,385.3 370.0,383.5 370.1,384.0 370.2,383.6 370.2,384.0 370.3,384.7 370.4,384.7 370.5,385.2 370.6,384.7 370.7,384.7 370.7,385.8 370.8,385.7 370.9,386.2 371.0,384.4 371.1,384.4 371.2,384.0 371.3,384.6 371.3,384.4 371.4,384.7 371.5,385.8 371.6,386.0 371.7,385.7 371.8,384.4 371.9,386.0 371.9,387.0 372.0,387.5 372.1,386.1 372.2,384.4 372.3,383.8 372.4,383.3 372.5,383.6 372.5,382.9 372.6,381.9 372.7,381.9 372.8,382.3 372.9,381.1 373.0,380.5 373.1,380.7 373.1,381.3 373.2,380.9 373.3,378.7 373.4,379.2 373.5,377.9 373.6,377.6 373.7,376.4 373.7,378.3 373.8,378.4 373.9,377.5 374.0,376.0 374.1,376.4 374.2,378.2 374.3,377.1 374.3,376.0 374.4,374.9 374.5,376.3 374.6,377.8 374.7,379.1 374.8,378.2 374.9,377.9 374.9,377.5 375.0,379.4 375.1,380.6 375.2,380.8 375.3,379.9 375.4,380.5 375.5,381.7 375.5,384.4 375.6,384.0 375.7,384.6 375.8,382.2 375.9,382.0 376.0,380.6 376.1,381.0 376.1,380.7 376.2,380.6 376.3,380.7 376.4,380.7 376.5,381.1 376.6,380.6 376.6,380.4 376.7,380.5 376.8,380.2 376.9,379.8 377.0,378.4 377.1,377.8 377.2,377.8 377.2,377.1 377.3,377.8 377.4,378.6 377.5,380.2 377.6,379.5 377.7,377.9 377.8,377.4 377.8,378.4 377.9,380.6 378.0,381.3 378.1,381.5 378.2,382.4 378.3,382.5 378.4,383.8 378.4,383.7 378.5,383.5 378.6,383.2 378.7,382.4 378.8,382.8 378.9,381.5 379.0,380.9 379.0,381.9 379.1,382.9 379.2,384.1 379.3,383.1 379.4,383.2 379.5,382.9 379.6,382.7 379.6,381.9 379.7,382.4 379.8,383.5 379.9,384.0 380.0,383.7 380.1,384.1 380.2,386.0 380.2,385.5 380.3,385.5 380.4,385.7 380.5,386.4 380.6,387.0 380.7,383.9 380.8,384.9 380.8,384.0 380.9,384.5 381.0,384.1 381.1,384.8 381.2,386.8 381.3,387.1 381.4,386.5 381.4,385.2 381.5,384.2 381.6,384.2 381.7,385.0 381.8,385.0 381.9,385.1 382.0,385.5 382.0,386.0 382.1,387.5 382.2,388.4 382.3,387.5 382.4,385.6 382.5,383.4 382.6,384.2 382.7,384.4 382.8,384.5 382.9,384.0 383.0,385.2 383.1,385.7 383.2,385.8 383.3,386.4 383.4,386.9 383.5,387.0 383.6,386.1 383.7,385.9 383.7,384.9 383.8,386.3 383.9,386.7 384.0,386.5 384.1,386.7 384.2,385.4 384.3,386.9 384.3,386.2 384.4,386.4 384.5,385.0 384.6,384.7 384.7,385.3 384.8,385.6 384.9,386.2 384.9,385.3 385.0,385.8 385.1,385.4 385.2,385.1 385.3,385.4 385.4,384.5 385.5,384.2 385.5,383.6 385.6,384.3 385.7,386.5 385.8,386.6 385.9,387.7 386.0,388.1 386.1,389.2 386.1,389.1 386.2,388.4 386.3,387.3 386.4,386.9 386.5,387.3 386.6,387.8 386.7,387.3 386.7,385.6 386.8,385.9 386.9,386.3 387.0,386.5 387.1,386.2 387.2,386.4 387.3,387.2 387.3,387.7 387.4,387.7 387.5,386.8 387.6,386.1 387.7,386.0 387.8,387.6 387.8,388.7 387.9,387.1 388.0,386.5 388.1,386.1 388.2,388.2 388.3,389.3 388.4,388.3 388.4,387.2 388.5,385.4 388.6,386.6 388.7,386.0 388.8,387.5 388.9,387.6 389.0,388.8 389.0,386.6 389.1,385.5 389.2,385.7 389.3,386.2 389.4,386.5 389.5,386.0 389.6,387.5 389.6,387.9 389.7,388.2 389.8,387.3 389.9,387.1 390.0,386.9 390.1,387.7 390.2,387.6 390.2,388.3 390.3,386.8 390.4,387.7 390.5,386.9 390.6,388.8 390.7,388.0"/>
<rect x="191.2" y="243.4" width="199.5" height="160.29999999999998" fill="none" stroke="#333" stroke-width="1.3"/>
<line x1="191.2" y1="403.7" x2="191.2" y2="406.7" stroke="#222" stroke-width="0.9"/>
<text x="191.2" y="414.3" text-anchor="middle" class="tk">10</text>
<line x1="219.7" y1="403.7" x2="219.7" y2="406.7" stroke="#222" stroke-width="0.9"/>
<text x="219.7" y="414.3" text-anchor="middle" class="tk">20</text>
<line x1="248.2" y1="403.7" x2="248.2" y2="406.7" stroke="#222" stroke-width="0.9"/>
<text x="248.2" y="414.3" text-anchor="middle" class="tk">30</text>
<line x1="276.7" y1="403.7" x2="276.7" y2="406.7" stroke="#222" stroke-width="0.9"/>
<text x="276.7" y="414.3" text-anchor="middle" class="tk">40</text>
<line x1="305.2" y1="403.7" x2="305.2" y2="406.7" stroke="#222" stroke-width="0.9"/>
<text x="305.2" y="414.3" text-anchor="middle" class="tk">50</text>
<line x1="333.7" y1="403.7" x2="333.7" y2="406.7" stroke="#222" stroke-width="0.9"/>
<text x="333.7" y="414.3" text-anchor="middle" class="tk">60</text>
<line x1="362.2" y1="403.7" x2="362.2" y2="406.7" stroke="#222" stroke-width="0.9"/>
<text x="362.2" y="414.3" text-anchor="middle" class="tk">70</text>
<line x1="390.7" y1="403.7" x2="390.7" y2="406.7" stroke="#222" stroke-width="0.9"/>
<text x="390.7" y="414.3" text-anchor="middle" class="tk">80</text>
<line x1="205.4" y1="403.7" x2="205.4" y2="405.7" stroke="#222" stroke-width="0.9"/>
<line x1="233.9" y1="403.7" x2="233.9" y2="405.7" stroke="#222" stroke-width="0.9"/>
<line x1="262.4" y1="403.7" x2="262.4" y2="405.7" stroke="#222" stroke-width="0.9"/>
<line x1="290.9" y1="403.7" x2="290.9" y2="405.7" stroke="#222" stroke-width="0.9"/>
<line x1="319.4" y1="403.7" x2="319.4" y2="405.7" stroke="#222" stroke-width="0.9"/>
<line x1="347.9" y1="403.7" x2="347.9" y2="405.7" stroke="#222" stroke-width="0.9"/>
<line x1="376.4" y1="403.7" x2="376.4" y2="405.7" stroke="#222" stroke-width="0.9"/>
<line x1="188.2" y1="397.0" x2="191.2" y2="397.0" stroke="#222" stroke-width="0.9"/>
<text x="186.5" y="399.4" text-anchor="end" class="tk">0</text>
<line x1="188.2" y1="363.6" x2="191.2" y2="363.6" stroke="#222" stroke-width="0.9"/>
<text x="186.5" y="366.0" text-anchor="end" class="tk">50</text>
<line x1="188.2" y1="330.2" x2="191.2" y2="330.2" stroke="#222" stroke-width="0.9"/>
<text x="186.5" y="332.6" text-anchor="end" class="tk">100</text>
<line x1="188.2" y1="296.8" x2="191.2" y2="296.8" stroke="#222" stroke-width="0.9"/>
<text x="186.5" y="299.2" text-anchor="end" class="tk">150</text>
<line x1="188.2" y1="263.4" x2="191.2" y2="263.4" stroke="#222" stroke-width="0.9"/>
<text x="186.5" y="265.8" text-anchor="end" class="tk">200</text>
<line x1="189.2" y1="380.3" x2="191.2" y2="380.3" stroke="#222" stroke-width="0.9"/>
<line x1="189.2" y1="346.9" x2="191.2" y2="346.9" stroke="#222" stroke-width="0.9"/>
<line x1="189.2" y1="313.5" x2="191.2" y2="313.5" stroke="#222" stroke-width="0.9"/>
<line x1="189.2" y1="280.1" x2="191.2" y2="280.1" stroke="#222" stroke-width="0.9"/>
<line x1="189.2" y1="246.7" x2="191.2" y2="246.7" stroke="#222" stroke-width="0.9"/>
<text x="290.5" y="428.2" text-anchor="middle" class="at">2θ/degree</text>
<text transform="translate(166.6 318.7) rotate(-90)" text-anchor="middle" class="at">Intensity/(a.u.)</text>
<text x="285.2" y="453.2" text-anchor="middle" class="pl">(c)</text>
<circle cx="210.0" cy="341.0" r="1.75" fill="#fff" stroke="#444" stroke-width="0.75"/>
<path d="M222.3 358.2L224.6 360.5L222.3 362.8L220.1 360.5Z" fill="#000"/>
<path d="M222.3 256.5L226.9 256.5L224.6 252.3Z" fill="#fff" stroke="#444" stroke-width="0.75"/>
<circle cx="235.7" cy="302.4" r="1.75" fill="#fff" stroke="#444" stroke-width="0.75"/>
<circle cx="238.2" cy="262.7" r="1.75" fill="#fff" stroke="#444" stroke-width="0.75"/>
<path d="M238.9 318.4L241.2 320.7L238.9 322.9L236.7 320.7Z" fill="#000"/>
<path d="M241.5 363.1L246.1 363.1L243.8 358.9Z" fill="#fff" stroke="#444" stroke-width="0.75"/>
<circle cx="251.0" cy="345.4" r="1.75" fill="#fff" stroke="#444" stroke-width="0.75"/>
<circle cx="257.6" cy="345.4" r="1.75" fill="#fff" stroke="#444" stroke-width="0.75"/>
<circle cx="263.5" cy="323.5" r="1.75" fill="#fff" stroke="#444" stroke-width="0.75"/>
<path d="M263.0 358.4L267.6 358.4L265.3 354.2Z" fill="#fff" stroke="#444" stroke-width="0.75"/>
<circle cx="269.0" cy="365.4" r="1.75" fill="#fff" stroke="#444" stroke-width="0.75"/>
<circle cx="274.9" cy="361.0" r="1.75" fill="#fff" stroke="#444" stroke-width="0.75"/>
<circle cx="279.4" cy="312.6" r="1.75" fill="#fff" stroke="#444" stroke-width="0.75"/>
<circle cx="284.2" cy="357.3" r="1.75" fill="#fff" stroke="#444" stroke-width="0.75"/>
<circle cx="300.2" cy="372.6" r="1.75" fill="#fff" stroke="#444" stroke-width="0.75"/>
<circle cx="316.6" cy="363.2" r="1.75" fill="#fff" stroke="#444" stroke-width="0.75"/>
<circle cx="326.6" cy="363.2" r="1.75" fill="#fff" stroke="#444" stroke-width="0.75"/>
<circle cx="335.7" cy="343.3" r="1.75" fill="#fff" stroke="#444" stroke-width="0.75"/>
<circle cx="346.7" cy="362.8" r="1.75" fill="#fff" stroke="#444" stroke-width="0.75"/>
<circle cx="364.7" cy="372.8" r="1.75" fill="#fff" stroke="#444" stroke-width="0.75"/>
<circle cx="374.2" cy="374.2" r="1.75" fill="#fff" stroke="#444" stroke-width="0.75"/>
<path d="M294.0 249.8L296.2 252.1L294.0 254.3L291.8 252.1Z" fill="#000"/>
<text x="296.5" y="254.5" class="lg">Quartz (SiO<tspan font-size="3.8" dy="1.3">2</tspan><tspan dy="-1.3">, 15.4%)</tspan></text>
<circle cx="293.3" cy="261.6" r="1.6" fill="#fff" stroke="#444" stroke-width="0.75"/>
<text x="295.7" y="263.7" class="lg">Sillimanite (Al<tspan font-size="3.8" dy="1.3">2</tspan><tspan dy="-1.3">(SiO</tspan><tspan font-size="3.8" dy="1.3">4</tspan><tspan dy="-1.3">)O, 43.7% )</tspan></text>
<path d="M291.3 273.2L296.3 273.2L293.8 269.1Z" fill="#fff" stroke="#333" stroke-width="0.7"/>
<text x="296.5" y="273.2" class="lg">Cristobalite (SiO<tspan font-size="3.8" dy="1.3">2</tspan><tspan dy="-1.3">, 15.2%)</tspan></text>
<text x="291.3" y="282.3" class="lg">Amorphous materials (25.7%)</text>
</svg>
</body></html>
